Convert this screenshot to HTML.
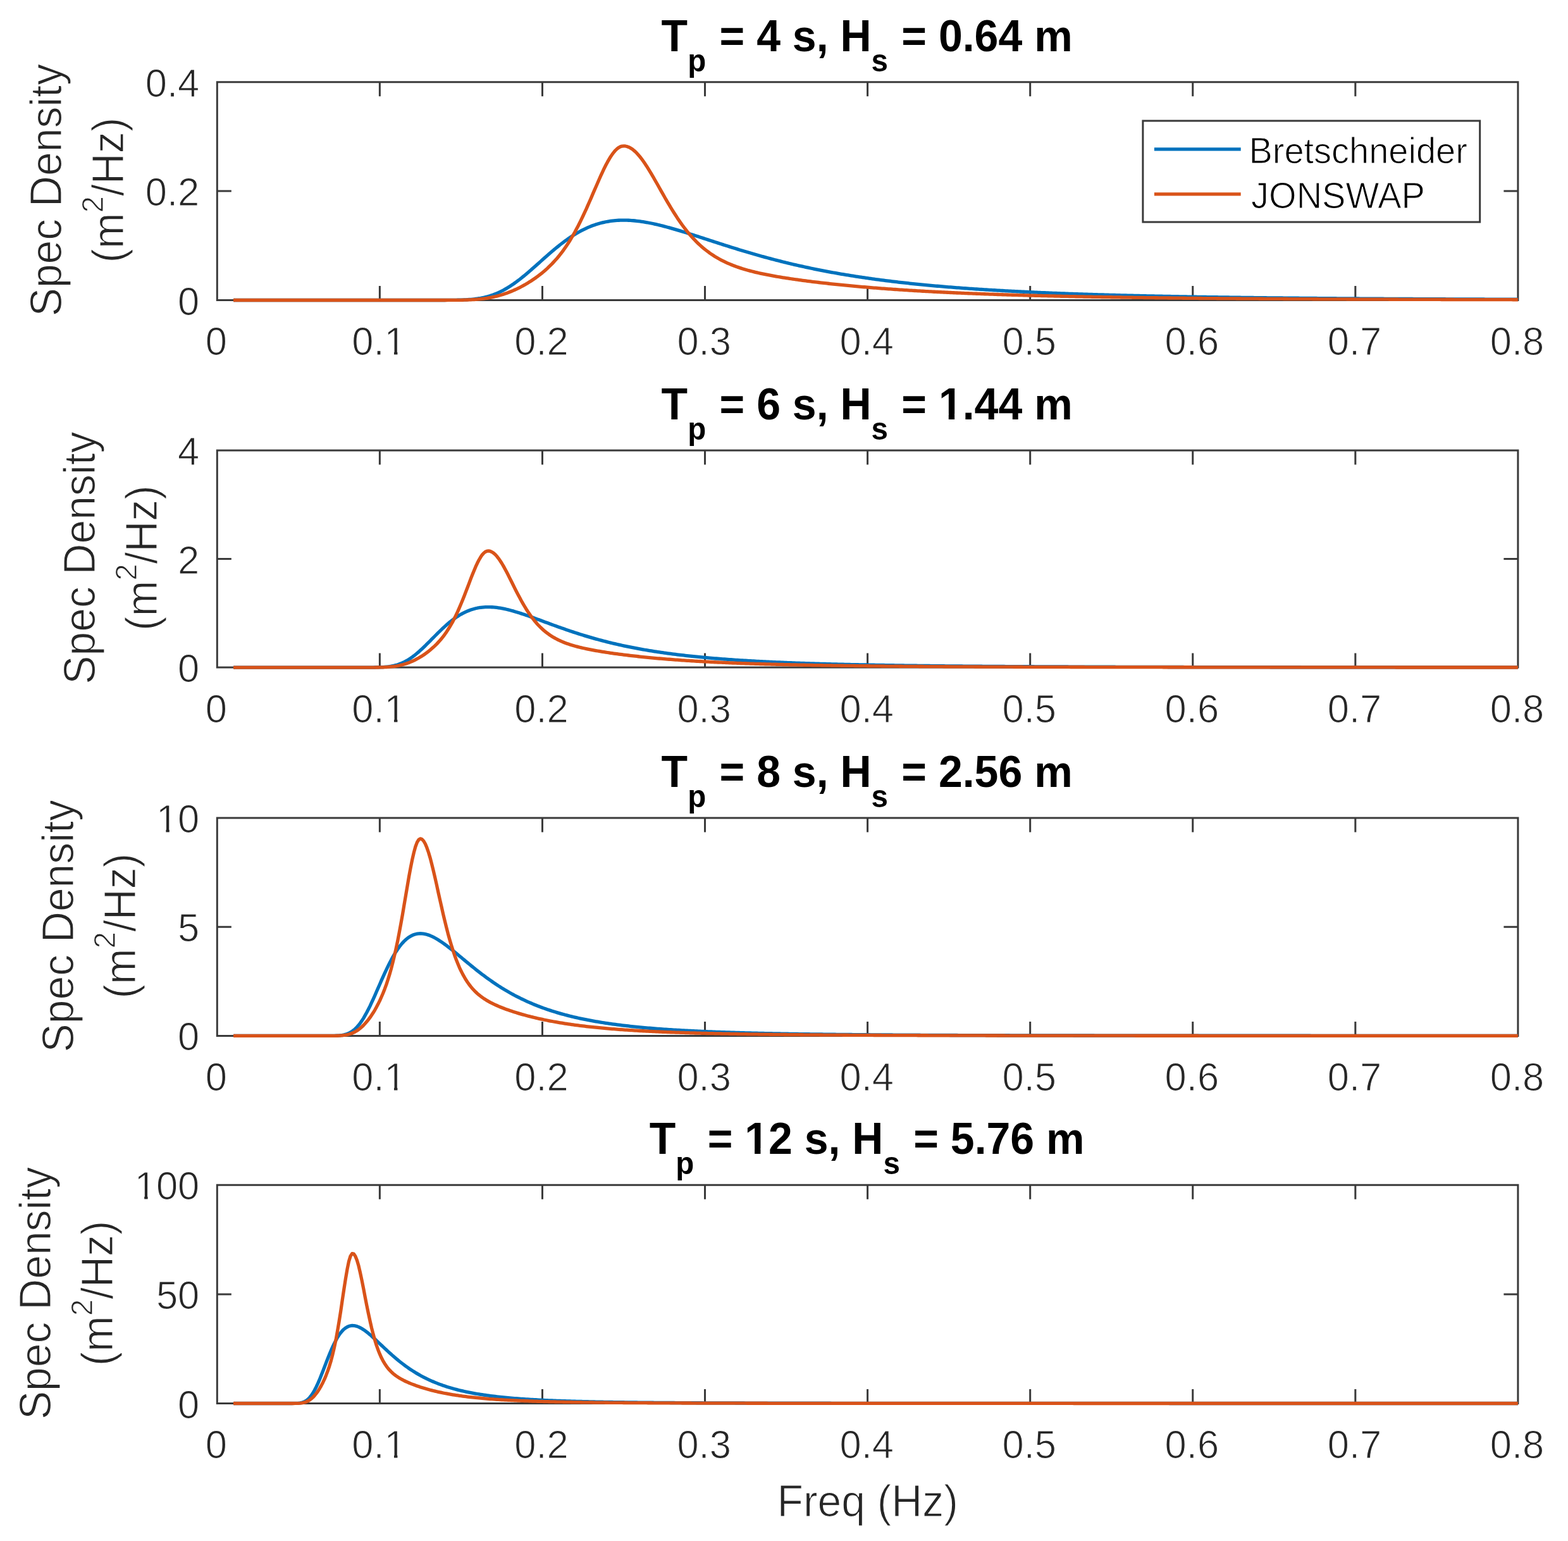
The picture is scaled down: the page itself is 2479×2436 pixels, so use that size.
<!DOCTYPE html><html><head><meta charset="utf-8"><title>Wave spectra: Bretschneider vs JONSWAP</title><style>html,body{margin:0;padding:0;background:#fff;}svg{display:block;}</style></head><body>
<svg width="2479" height="2436" viewBox="0 0 2479 2436" font-family="'Liberation Sans', Arial, Helvetica, sans-serif">
<rect width="2479" height="2436" fill="#fff"/>
<path d="M343.3,129.75H2399.9V474.5H343.3ZM343.30,474.5v-21M343.30,129.75v21M600.38,474.5v-21M600.38,129.75v21M857.45,474.5v-21M857.45,129.75v21M1114.53,474.5v-21M1114.53,129.75v21M1371.60,474.5v-21M1371.60,129.75v21M1628.67,474.5v-21M1628.67,129.75v21M1885.75,474.5v-21M1885.75,129.75v21M2142.83,474.5v-21M2142.83,129.75v21M2399.90,474.5v-21M2399.90,129.75v21M343.3,474.50h21M2399.9,474.50h-21M343.3,302.12h21M2399.9,302.12h-21M343.3,129.75h21M2399.9,129.75h-21" fill="none" stroke="#3a3a3a" stroke-width="3.0" stroke-linecap="square"/>
<polyline points="369.0,474.50 371.6,474.50 374.1,474.50 376.7,474.50 379.3,474.50 381.9,474.50 384.4,474.50 387.0,474.50 389.6,474.50 392.1,474.50 394.7,474.50 397.3,474.50 399.9,474.50 402.4,474.50 405.0,474.50 407.6,474.50 410.1,474.50 412.7,474.50 415.3,474.50 417.9,474.50 420.4,474.50 423.0,474.50 425.6,474.50 428.1,474.50 430.7,474.50 433.3,474.50 435.8,474.50 438.4,474.50 441.0,474.50 443.6,474.50 446.1,474.50 448.7,474.50 451.3,474.50 453.8,474.50 456.4,474.50 459.0,474.50 461.6,474.50 464.1,474.50 466.7,474.50 469.3,474.50 471.8,474.50 474.4,474.50 477.0,474.50 479.5,474.50 482.1,474.50 484.7,474.50 487.3,474.50 489.8,474.50 492.4,474.50 495.0,474.50 497.5,474.50 500.1,474.50 502.7,474.50 505.3,474.50 507.8,474.50 510.4,474.50 513.0,474.50 515.5,474.50 518.1,474.50 520.7,474.50 523.3,474.50 525.8,474.50 528.4,474.50 531.0,474.50 533.5,474.50 536.1,474.50 538.7,474.50 541.2,474.50 543.8,474.50 546.4,474.50 549.0,474.50 551.5,474.50 554.1,474.50 556.7,474.50 559.2,474.50 561.8,474.50 564.4,474.50 567.0,474.50 569.5,474.50 572.1,474.50 574.7,474.50 577.2,474.50 579.8,474.50 582.4,474.50 585.0,474.50 587.5,474.50 590.1,474.50 592.7,474.50 595.2,474.50 597.8,474.50 600.4,474.50 602.9,474.50 605.5,474.50 608.1,474.50 610.7,474.50 613.2,474.50 615.8,474.50 618.4,474.50 620.9,474.50 623.5,474.50 626.1,474.50 628.7,474.50 631.2,474.50 633.8,474.50 636.4,474.50 638.9,474.50 641.5,474.50 644.1,474.50 646.6,474.50 649.2,474.50 651.8,474.50 654.4,474.50 656.9,474.50 659.5,474.50 662.1,474.50 664.6,474.50 667.2,474.50 669.8,474.50 672.4,474.50 674.9,474.50 677.5,474.50 680.1,474.50 682.6,474.50 685.2,474.50 687.8,474.50 690.4,474.50 692.9,474.49 695.5,474.49 698.1,474.49 700.6,474.48 703.2,474.48 705.8,474.47 708.3,474.45 710.9,474.44 713.5,474.42 716.1,474.39 718.6,474.36 721.2,474.32 723.8,474.27 726.3,474.21 728.9,474.13 731.5,474.04 734.1,473.93 736.6,473.81 739.2,473.66 741.8,473.48 744.3,473.27 746.9,473.04 749.5,472.77 752.0,472.46 754.6,472.11 757.2,471.72 759.8,471.28 762.3,470.79 764.9,470.25 767.5,469.65 770.0,468.99 772.6,468.27 775.2,467.49 777.8,466.64 780.3,465.73 782.9,464.74 785.5,463.69 788.0,462.57 790.6,461.37 793.2,460.10 795.8,458.77 798.3,457.36 800.9,455.88 803.5,454.34 806.0,452.72 808.6,451.05 811.2,449.30 813.7,447.50 816.3,445.64 818.9,443.73 821.5,441.76 824.0,439.74 826.6,437.68 829.2,435.58 831.7,433.44 834.3,431.26 836.9,429.06 839.5,426.83 842.0,424.58 844.6,422.31 847.2,420.02 849.7,417.73 852.3,415.43 854.9,413.13 857.5,410.83 860.0,408.54 862.6,406.26 865.2,404.00 867.7,401.75 870.3,399.52 872.9,397.32 875.4,395.14 878.0,393.00 880.6,390.88 883.2,388.81 885.7,386.77 888.3,384.77 890.9,382.82 893.4,380.91 896.0,379.05 898.6,377.23 901.2,375.47 903.7,373.76 906.3,372.10 908.9,370.49 911.4,368.94 914.0,367.45 916.6,366.01 919.1,364.63 921.7,363.31 924.3,362.04 926.9,360.83 929.4,359.68 932.0,358.59 934.6,357.55 937.1,356.57 939.7,355.65 942.3,354.79 944.9,353.98 947.4,353.23 950.0,352.53 952.6,351.89 955.1,351.30 957.7,350.76 960.3,350.28 962.9,349.84 965.4,349.46 968.0,349.13 970.6,348.84 973.1,348.60 975.7,348.41 978.3,348.26 980.8,348.15 983.4,348.09 986.0,348.07 988.6,348.09 991.1,348.15 993.7,348.25 996.3,348.38 998.8,348.55 1001.4,348.76 1004.0,349.00 1006.6,349.27 1009.1,349.57 1011.7,349.90 1014.3,350.27 1016.8,350.66 1019.4,351.07 1022.0,351.52 1024.5,351.99 1027.1,352.48 1029.7,352.99 1032.3,353.53 1034.8,354.09 1037.4,354.67 1040.0,355.27 1042.5,355.88 1045.1,356.51 1047.7,357.16 1050.3,357.83 1052.8,358.51 1055.4,359.20 1058.0,359.91 1060.5,360.63 1063.1,361.36 1065.7,362.10 1068.3,362.85 1070.8,363.61 1073.4,364.38 1076.0,365.16 1078.5,365.95 1081.1,366.74 1083.7,367.54 1086.2,368.35 1088.8,369.16 1091.4,369.97 1094.0,370.79 1096.5,371.62 1099.1,372.44 1101.7,373.27 1104.2,374.10 1106.8,374.94 1109.4,375.77 1112.0,376.61 1114.5,377.45 1117.1,378.28 1119.7,379.12 1122.2,379.96 1124.8,380.80 1127.4,381.63 1129.9,382.47 1132.5,383.30 1135.1,384.13 1137.7,384.96 1140.2,385.79 1142.8,386.61 1145.4,387.43 1147.9,388.25 1150.5,389.07 1153.1,389.88 1155.7,390.69 1158.2,391.49 1160.8,392.29 1163.4,393.09 1165.9,393.88 1168.5,394.67 1171.1,395.45 1173.7,396.23 1176.2,397.01 1178.8,397.78 1181.4,398.54 1183.9,399.30 1186.5,400.06 1189.1,400.80 1191.6,401.55 1194.2,402.29 1196.8,403.02 1199.4,403.75 1201.9,404.47 1204.5,405.19 1207.1,405.90 1209.6,406.60 1212.2,407.30 1214.8,408.00 1217.4,408.68 1219.9,409.37 1222.5,410.04 1225.1,410.71 1227.6,411.38 1230.2,412.04 1232.8,412.69 1235.4,413.33 1237.9,413.98 1240.5,414.61 1243.1,415.24 1245.6,415.86 1248.2,416.48 1250.8,417.09 1253.3,417.70 1255.9,418.30 1258.5,418.89 1261.1,419.48 1263.6,420.06 1266.2,420.64 1268.8,421.21 1271.3,421.77 1273.9,422.33 1276.5,422.89 1279.1,423.44 1281.6,423.98 1284.2,424.52 1286.8,425.05 1289.3,425.57 1291.9,426.09 1294.5,426.61 1297.0,427.12 1299.6,427.62 1302.2,428.12 1304.8,428.61 1307.3,429.10 1309.9,429.59 1312.5,430.06 1315.0,430.54 1317.6,431.00 1320.2,431.47 1322.8,431.93 1325.3,432.38 1327.9,432.83 1330.5,433.27 1333.0,433.71 1335.6,434.14 1338.2,434.57 1340.8,434.99 1343.3,435.41 1345.9,435.83 1348.5,436.24 1351.0,436.64 1353.6,437.04 1356.2,437.44 1358.7,437.83 1361.3,438.22 1363.9,438.60 1366.5,438.98 1369.0,439.35 1371.6,439.72 1374.2,440.09 1376.7,440.45 1379.3,440.81 1381.9,441.16 1384.5,441.51 1387.0,441.86 1389.6,442.20 1392.2,442.54 1394.7,442.88 1397.3,443.21 1399.9,443.53 1402.4,443.86 1405.0,444.18 1407.6,444.49 1410.2,444.81 1412.7,445.11 1415.3,445.42 1417.9,445.72 1420.4,446.02 1423.0,446.31 1425.6,446.61 1428.2,446.90 1430.7,447.18 1433.3,447.46 1435.9,447.74 1438.4,448.02 1441.0,448.29 1443.6,448.56 1446.2,448.82 1448.7,449.09 1451.3,449.35 1453.9,449.61 1456.4,449.86 1459.0,450.11 1461.6,450.36 1464.1,450.61 1466.7,450.85 1469.3,451.09 1471.9,451.33 1474.4,451.56 1477.0,451.79 1479.6,452.02 1482.1,452.25 1484.7,452.47 1487.3,452.70 1489.9,452.92 1492.4,453.13 1495.0,453.35 1497.6,453.56 1500.1,453.77 1502.7,453.98 1505.3,454.18 1507.8,454.38 1510.4,454.58 1513.0,454.78 1515.6,454.98 1518.1,455.17 1520.7,455.36 1523.3,455.55 1525.8,455.74 1528.4,455.92 1531.0,456.11 1533.6,456.29 1536.1,456.47 1538.7,456.64 1541.3,456.82 1543.8,456.99 1546.4,457.16 1549.0,457.33 1551.6,457.50 1554.1,457.66 1556.7,457.83 1559.3,457.99 1561.8,458.15 1564.4,458.31 1567.0,458.46 1569.5,458.62 1572.1,458.77 1574.7,458.92 1577.3,459.07 1579.8,459.22 1582.4,459.37 1585.0,459.51 1587.5,459.66 1590.1,459.80 1592.7,459.94 1595.3,460.08 1597.8,460.21 1600.4,460.35 1603.0,460.48 1605.5,460.62 1608.1,460.75 1610.7,460.88 1613.3,461.01 1615.8,461.13 1618.4,461.26 1621.0,461.38 1623.5,461.50 1626.1,461.63 1628.7,461.75 1631.2,461.87 1633.8,461.98 1636.4,462.10 1639.0,462.21 1641.5,462.33 1644.1,462.44 1646.7,462.55 1649.2,462.66 1651.8,462.77 1654.4,462.88 1657.0,462.99 1659.5,463.09 1662.1,463.20 1664.7,463.30 1667.2,463.40 1669.8,463.50 1672.4,463.60 1674.9,463.70 1677.5,463.80 1680.1,463.90 1682.7,463.99 1685.2,464.09 1687.8,464.18 1690.4,464.28 1692.9,464.37 1695.5,464.46 1698.1,464.55 1700.7,464.64 1703.2,464.73 1705.8,464.81 1708.4,464.90 1710.9,464.99 1713.5,465.07 1716.1,465.15 1718.7,465.24 1721.2,465.32 1723.8,465.40 1726.4,465.48 1728.9,465.56 1731.5,465.64 1734.1,465.72 1736.6,465.79 1739.2,465.87 1741.8,465.95 1744.4,466.02 1746.9,466.09 1749.5,466.17 1752.1,466.24 1754.6,466.31 1757.2,466.38 1759.8,466.45 1762.4,466.52 1764.9,466.59 1767.5,466.66 1770.1,466.73 1772.6,466.79 1775.2,466.86 1777.8,466.93 1780.3,466.99 1782.9,467.05 1785.5,467.12 1788.1,467.18 1790.6,467.24 1793.2,467.30 1795.8,467.37 1798.3,467.43 1800.9,467.49 1803.5,467.54 1806.1,467.60 1808.6,467.66 1811.2,467.72 1813.8,467.78 1816.3,467.83 1818.9,467.89 1821.5,467.94 1824.1,468.00 1826.6,468.05 1829.2,468.11 1831.8,468.16 1834.3,468.21 1836.9,468.26 1839.5,468.32 1842.0,468.37 1844.6,468.42 1847.2,468.47 1849.8,468.52 1852.3,468.57 1854.9,468.61 1857.5,468.66 1860.0,468.71 1862.6,468.76 1865.2,468.80 1867.8,468.85 1870.3,468.90 1872.9,468.94 1875.5,468.99 1878.0,469.03 1880.6,469.08 1883.2,469.12 1885.7,469.16 1888.3,469.21 1890.9,469.25 1893.5,469.29 1896.0,469.33 1898.6,469.37 1901.2,469.41 1903.7,469.46 1906.3,469.50 1908.9,469.54 1911.5,469.57 1914.0,469.61 1916.6,469.65 1919.2,469.69 1921.7,469.73 1924.3,469.77 1926.9,469.80 1929.5,469.84 1932.0,469.88 1934.6,469.91 1937.2,469.95 1939.7,469.98 1942.3,470.02 1944.9,470.05 1947.4,470.09 1950.0,470.12 1952.6,470.16 1955.2,470.19 1957.7,470.22 1960.3,470.26 1962.9,470.29 1965.4,470.32 1968.0,470.35 1970.6,470.39 1973.2,470.42 1975.7,470.45 1978.3,470.48 1980.9,470.51 1983.4,470.54 1986.0,470.57 1988.6,470.60 1991.2,470.63 1993.7,470.66 1996.3,470.69 1998.9,470.72 2001.4,470.75 2004.0,470.78 2006.6,470.80 2009.1,470.83 2011.7,470.86 2014.3,470.89 2016.9,470.91 2019.4,470.94 2022.0,470.97 2024.6,470.99 2027.1,471.02 2029.7,471.05 2032.3,471.07 2034.9,471.10 2037.4,471.12 2040.0,471.15 2042.6,471.17 2045.1,471.20 2047.7,471.22 2050.3,471.24 2052.8,471.27 2055.4,471.29 2058.0,471.32 2060.6,471.34 2063.1,471.36 2065.7,471.38 2068.3,471.41 2070.8,471.43 2073.4,471.45 2076.0,471.47 2078.6,471.50 2081.1,471.52 2083.7,471.54 2086.3,471.56 2088.8,471.58 2091.4,471.60 2094.0,471.62 2096.6,471.64 2099.1,471.66 2101.7,471.69 2104.3,471.71 2106.8,471.73 2109.4,471.75 2112.0,471.76 2114.5,471.78 2117.1,471.80 2119.7,471.82 2122.3,471.84 2124.8,471.86 2127.4,471.88 2130.0,471.90 2132.5,471.92 2135.1,471.93 2137.7,471.95 2140.3,471.97 2142.8,471.99 2145.4,472.01 2148.0,472.02 2150.5,472.04 2153.1,472.06 2155.7,472.07 2158.2,472.09 2160.8,472.11 2163.4,472.12 2166.0,472.14 2168.5,472.16 2171.1,472.17 2173.7,472.19 2176.2,472.21 2178.8,472.22 2181.4,472.24 2184.0,472.25 2186.5,472.27 2189.1,472.28 2191.7,472.30 2194.2,472.31 2196.8,472.33 2199.4,472.34 2202.0,472.36 2204.5,472.37 2207.1,472.39 2209.7,472.40 2212.2,472.41 2214.8,472.43 2217.4,472.44 2219.9,472.46 2222.5,472.47 2225.1,472.48 2227.7,472.50 2230.2,472.51 2232.8,472.52 2235.4,472.54 2237.9,472.55 2240.5,472.56 2243.1,472.58 2245.7,472.59 2248.2,472.60 2250.8,472.61 2253.4,472.63 2255.9,472.64 2258.5,472.65 2261.1,472.66 2263.7,472.68 2266.2,472.69 2268.8,472.70 2271.4,472.71 2273.9,472.72 2276.5,472.74 2279.1,472.75 2281.6,472.76 2284.2,472.77 2286.8,472.78 2289.4,472.79 2291.9,472.80 2294.5,472.81 2297.1,472.83 2299.6,472.84 2302.2,472.85 2304.8,472.86 2307.4,472.87 2309.9,472.88 2312.5,472.89 2315.1,472.90 2317.6,472.91 2320.2,472.92 2322.8,472.93 2325.3,472.94 2327.9,472.95 2330.5,472.96 2333.1,472.97 2335.6,472.98 2338.2,472.99 2340.8,473.00 2343.3,473.01 2345.9,473.02 2348.5,473.03 2351.1,473.04 2353.6,473.05 2356.2,473.05 2358.8,473.06 2361.3,473.07 2363.9,473.08 2366.5,473.09 2369.1,473.10 2371.6,473.11 2374.2,473.12 2376.8,473.13 2379.3,473.13 2381.9,473.14 2384.5,473.15 2387.0,473.16 2389.6,473.17 2392.2,473.18 2394.8,473.18 2397.3,473.19 2399.9,473.20" fill="none" stroke="#0072BD" stroke-width="5.3" stroke-linejoin="round"/>
<polyline points="369.0,474.50 371.6,474.50 374.1,474.50 376.7,474.50 379.3,474.50 381.9,474.50 384.4,474.50 387.0,474.50 389.6,474.50 392.1,474.50 394.7,474.50 397.3,474.50 399.9,474.50 402.4,474.50 405.0,474.50 407.6,474.50 410.1,474.50 412.7,474.50 415.3,474.50 417.9,474.50 420.4,474.50 423.0,474.50 425.6,474.50 428.1,474.50 430.7,474.50 433.3,474.50 435.8,474.50 438.4,474.50 441.0,474.50 443.6,474.50 446.1,474.50 448.7,474.50 451.3,474.50 453.8,474.50 456.4,474.50 459.0,474.50 461.6,474.50 464.1,474.50 466.7,474.50 469.3,474.50 471.8,474.50 474.4,474.50 477.0,474.50 479.5,474.50 482.1,474.50 484.7,474.50 487.3,474.50 489.8,474.50 492.4,474.50 495.0,474.50 497.5,474.50 500.1,474.50 502.7,474.50 505.3,474.50 507.8,474.50 510.4,474.50 513.0,474.50 515.5,474.50 518.1,474.50 520.7,474.50 523.3,474.50 525.8,474.50 528.4,474.50 531.0,474.50 533.5,474.50 536.1,474.50 538.7,474.50 541.2,474.50 543.8,474.50 546.4,474.50 549.0,474.50 551.5,474.50 554.1,474.50 556.7,474.50 559.2,474.50 561.8,474.50 564.4,474.50 567.0,474.50 569.5,474.50 572.1,474.50 574.7,474.50 577.2,474.50 579.8,474.50 582.4,474.50 585.0,474.50 587.5,474.50 590.1,474.50 592.7,474.50 595.2,474.50 597.8,474.50 600.4,474.50 602.9,474.50 605.5,474.50 608.1,474.50 610.7,474.50 613.2,474.50 615.8,474.50 618.4,474.50 620.9,474.50 623.5,474.50 626.1,474.50 628.7,474.50 631.2,474.50 633.8,474.50 636.4,474.50 638.9,474.50 641.5,474.50 644.1,474.50 646.6,474.50 649.2,474.50 651.8,474.50 654.4,474.50 656.9,474.50 659.5,474.50 662.1,474.50 664.6,474.50 667.2,474.50 669.8,474.50 672.4,474.50 674.9,474.50 677.5,474.50 680.1,474.50 682.6,474.50 685.2,474.50 687.8,474.50 690.4,474.50 692.9,474.50 695.5,474.50 698.1,474.49 700.6,474.49 703.2,474.49 705.8,474.48 708.3,474.47 710.9,474.46 713.5,474.45 716.1,474.44 718.6,474.42 721.2,474.39 723.8,474.37 726.3,474.33 728.9,474.29 731.5,474.23 734.1,474.17 736.6,474.09 739.2,474.01 741.8,473.90 744.3,473.78 746.9,473.65 749.5,473.49 752.0,473.31 754.6,473.10 757.2,472.87 759.8,472.61 762.3,472.33 764.9,472.01 767.5,471.66 770.0,471.27 772.6,470.85 775.2,470.38 777.8,469.88 780.3,469.34 782.9,468.76 785.5,468.13 788.0,467.46 790.6,466.75 793.2,465.99 795.8,465.18 798.3,464.33 800.9,463.43 803.5,462.49 806.0,461.50 808.6,460.46 811.2,459.37 813.7,458.24 816.3,457.06 818.9,455.83 821.5,454.55 824.0,453.22 826.6,451.85 829.2,450.42 831.7,448.95 834.3,447.42 836.9,445.84 839.5,444.21 842.0,442.52 844.6,440.77 847.2,438.96 849.7,437.09 852.3,435.15 854.9,433.15 857.5,431.07 860.0,428.92 862.6,426.68 865.2,424.36 867.7,421.96 870.3,419.45 872.9,416.85 875.4,414.14 878.0,411.32 880.6,408.39 883.2,405.33 885.7,402.14 888.3,398.82 890.9,395.36 893.4,391.75 896.0,387.99 898.6,384.07 901.2,380.00 903.7,375.76 906.3,371.35 908.9,366.78 911.4,362.04 914.0,357.14 916.6,352.07 919.1,346.85 921.7,341.48 924.3,335.97 926.9,330.34 929.4,324.59 932.0,318.76 934.6,312.85 937.1,306.89 939.7,300.91 942.3,294.94 944.9,289.02 947.4,283.17 950.0,277.43 952.6,271.85 955.1,266.46 957.7,261.31 960.3,256.43 962.9,251.88 965.4,247.68 968.0,243.87 970.6,240.50 973.1,237.59 975.7,235.17 978.3,233.26 980.8,231.89 983.4,231.06 986.0,230.78 988.6,230.97 991.1,231.51 993.7,232.41 996.3,233.66 998.8,235.24 1001.4,237.16 1004.0,239.38 1006.6,241.90 1009.1,244.69 1011.7,247.75 1014.3,251.04 1016.8,254.55 1019.4,258.27 1022.0,262.16 1024.5,266.20 1027.1,270.38 1029.7,274.67 1032.3,279.05 1034.8,283.50 1037.4,288.01 1040.0,292.54 1042.5,297.10 1045.1,301.65 1047.7,306.19 1050.3,310.70 1052.8,315.17 1055.4,319.58 1058.0,323.93 1060.5,328.20 1063.1,332.40 1065.7,336.50 1068.3,340.51 1070.8,344.41 1073.4,348.21 1076.0,351.91 1078.5,355.49 1081.1,358.97 1083.7,362.33 1086.2,365.58 1088.8,368.72 1091.4,371.74 1094.0,374.66 1096.5,377.46 1099.1,380.16 1101.7,382.76 1104.2,385.25 1106.8,387.64 1109.4,389.94 1112.0,392.15 1114.5,394.26 1117.1,396.28 1119.7,398.23 1122.2,400.09 1124.8,401.87 1127.4,403.57 1129.9,405.21 1132.5,406.78 1135.1,408.28 1137.7,409.71 1140.2,411.09 1142.8,412.41 1145.4,413.68 1147.9,414.89 1150.5,416.06 1153.1,417.17 1155.7,418.24 1158.2,419.27 1160.8,420.26 1163.4,421.22 1165.9,422.13 1168.5,423.01 1171.1,423.86 1173.7,424.68 1176.2,425.47 1178.8,426.23 1181.4,426.96 1183.9,427.68 1186.5,428.36 1189.1,429.03 1191.6,429.67 1194.2,430.30 1196.8,430.90 1199.4,431.49 1201.9,432.07 1204.5,432.62 1207.1,433.17 1209.6,433.69 1212.2,434.21 1214.8,434.71 1217.4,435.20 1219.9,435.68 1222.5,436.15 1225.1,436.61 1227.6,437.06 1230.2,437.50 1232.8,437.93 1235.4,438.36 1237.9,438.78 1240.5,439.18 1243.1,439.59 1245.6,439.98 1248.2,440.37 1250.8,440.75 1253.3,441.13 1255.9,441.50 1258.5,441.87 1261.1,442.23 1263.6,442.58 1266.2,442.93 1268.8,443.28 1271.3,443.62 1273.9,443.95 1276.5,444.29 1279.1,444.61 1281.6,444.94 1284.2,445.26 1286.8,445.57 1289.3,445.88 1291.9,446.19 1294.5,446.50 1297.0,446.80 1299.6,447.10 1302.2,447.39 1304.8,447.68 1307.3,447.97 1309.9,448.25 1312.5,448.53 1315.0,448.81 1317.6,449.08 1320.2,449.36 1322.8,449.62 1325.3,449.89 1327.9,450.15 1330.5,450.41 1333.0,450.67 1335.6,450.92 1338.2,451.17 1340.8,451.42 1343.3,451.66 1345.9,451.91 1348.5,452.15 1351.0,452.38 1353.6,452.62 1356.2,452.85 1358.7,453.08 1361.3,453.30 1363.9,453.53 1366.5,453.75 1369.0,453.97 1371.6,454.19 1374.2,454.40 1376.7,454.61 1379.3,454.82 1381.9,455.03 1384.5,455.23 1387.0,455.43 1389.6,455.63 1392.2,455.83 1394.7,456.03 1397.3,456.22 1399.9,456.41 1402.4,456.60 1405.0,456.79 1407.6,456.97 1410.2,457.15 1412.7,457.33 1415.3,457.51 1417.9,457.69 1420.4,457.86 1423.0,458.04 1425.6,458.21 1428.2,458.37 1430.7,458.54 1433.3,458.71 1435.9,458.87 1438.4,459.03 1441.0,459.19 1443.6,459.35 1446.2,459.50 1448.7,459.66 1451.3,459.81 1453.9,459.96 1456.4,460.11 1459.0,460.25 1461.6,460.40 1464.1,460.54 1466.7,460.68 1469.3,460.82 1471.9,460.96 1474.4,461.10 1477.0,461.24 1479.6,461.37 1482.1,461.50 1484.7,461.63 1487.3,461.76 1489.9,461.89 1492.4,462.02 1495.0,462.14 1497.6,462.27 1500.1,462.39 1502.7,462.51 1505.3,462.63 1507.8,462.75 1510.4,462.87 1513.0,462.98 1515.6,463.10 1518.1,463.21 1520.7,463.32 1523.3,463.43 1525.8,463.54 1528.4,463.65 1531.0,463.76 1533.6,463.86 1536.1,463.97 1538.7,464.07 1541.3,464.17 1543.8,464.27 1546.4,464.37 1549.0,464.47 1551.6,464.57 1554.1,464.67 1556.7,464.76 1559.3,464.86 1561.8,464.95 1564.4,465.04 1567.0,465.13 1569.5,465.22 1572.1,465.31 1574.7,465.40 1577.3,465.49 1579.8,465.58 1582.4,465.66 1585.0,465.75 1587.5,465.83 1590.1,465.91 1592.7,465.99 1595.3,466.07 1597.8,466.15 1600.4,466.23 1603.0,466.31 1605.5,466.39 1608.1,466.47 1610.7,466.54 1613.3,466.62 1615.8,466.69 1618.4,466.76 1621.0,466.84 1623.5,466.91 1626.1,466.98 1628.7,467.05 1631.2,467.12 1633.8,467.19 1636.4,467.26 1639.0,467.32 1641.5,467.39 1644.1,467.46 1646.7,467.52 1649.2,467.59 1651.8,467.65 1654.4,467.71 1657.0,467.77 1659.5,467.84 1662.1,467.90 1664.7,467.96 1667.2,468.02 1669.8,468.08 1672.4,468.13 1674.9,468.19 1677.5,468.25 1680.1,468.31 1682.7,468.36 1685.2,468.42 1687.8,468.47 1690.4,468.53 1692.9,468.58 1695.5,468.63 1698.1,468.69 1700.7,468.74 1703.2,468.79 1705.8,468.84 1708.4,468.89 1710.9,468.94 1713.5,468.99 1716.1,469.04 1718.7,469.09 1721.2,469.14 1723.8,469.18 1726.4,469.23 1728.9,469.28 1731.5,469.32 1734.1,469.37 1736.6,469.41 1739.2,469.46 1741.8,469.50 1744.4,469.55 1746.9,469.59 1749.5,469.63 1752.1,469.67 1754.6,469.72 1757.2,469.76 1759.8,469.80 1762.4,469.84 1764.9,469.88 1767.5,469.92 1770.1,469.96 1772.6,470.00 1775.2,470.04 1777.8,470.08 1780.3,470.11 1782.9,470.15 1785.5,470.19 1788.1,470.22 1790.6,470.26 1793.2,470.30 1795.8,470.33 1798.3,470.37 1800.9,470.40 1803.5,470.44 1806.1,470.47 1808.6,470.51 1811.2,470.54 1813.8,470.57 1816.3,470.61 1818.9,470.64 1821.5,470.67 1824.1,470.70 1826.6,470.73 1829.2,470.76 1831.8,470.80 1834.3,470.83 1836.9,470.86 1839.5,470.89 1842.0,470.92 1844.6,470.95 1847.2,470.98 1849.8,471.00 1852.3,471.03 1854.9,471.06 1857.5,471.09 1860.0,471.12 1862.6,471.15 1865.2,471.17 1867.8,471.20 1870.3,471.23 1872.9,471.25 1875.5,471.28 1878.0,471.31 1880.6,471.33 1883.2,471.36 1885.7,471.38 1888.3,471.41 1890.9,471.43 1893.5,471.46 1896.0,471.48 1898.6,471.51 1901.2,471.53 1903.7,471.55 1906.3,471.58 1908.9,471.60 1911.5,471.62 1914.0,471.65 1916.6,471.67 1919.2,471.69 1921.7,471.71 1924.3,471.73 1926.9,471.76 1929.5,471.78 1932.0,471.80 1934.6,471.82 1937.2,471.84 1939.7,471.86 1942.3,471.88 1944.9,471.90 1947.4,471.92 1950.0,471.94 1952.6,471.96 1955.2,471.98 1957.7,472.00 1960.3,472.02 1962.9,472.04 1965.4,472.06 1968.0,472.08 1970.6,472.10 1973.2,472.12 1975.7,472.13 1978.3,472.15 1980.9,472.17 1983.4,472.19 1986.0,472.21 1988.6,472.22 1991.2,472.24 1993.7,472.26 1996.3,472.27 1998.9,472.29 2001.4,472.31 2004.0,472.32 2006.6,472.34 2009.1,472.36 2011.7,472.37 2014.3,472.39 2016.9,472.40 2019.4,472.42 2022.0,472.44 2024.6,472.45 2027.1,472.47 2029.7,472.48 2032.3,472.50 2034.9,472.51 2037.4,472.53 2040.0,472.54 2042.6,472.56 2045.1,472.57 2047.7,472.58 2050.3,472.60 2052.8,472.61 2055.4,472.63 2058.0,472.64 2060.6,472.65 2063.1,472.67 2065.7,472.68 2068.3,472.69 2070.8,472.71 2073.4,472.72 2076.0,472.73 2078.6,472.75 2081.1,472.76 2083.7,472.77 2086.3,472.78 2088.8,472.80 2091.4,472.81 2094.0,472.82 2096.6,472.83 2099.1,472.84 2101.7,472.86 2104.3,472.87 2106.8,472.88 2109.4,472.89 2112.0,472.90 2114.5,472.91 2117.1,472.92 2119.7,472.94 2122.3,472.95 2124.8,472.96 2127.4,472.97 2130.0,472.98 2132.5,472.99 2135.1,473.00 2137.7,473.01 2140.3,473.02 2142.8,473.03 2145.4,473.04 2148.0,473.05 2150.5,473.06 2153.1,473.07 2155.7,473.08 2158.2,473.09 2160.8,473.10 2163.4,473.11 2166.0,473.12 2168.5,473.13 2171.1,473.14 2173.7,473.15 2176.2,473.16 2178.8,473.17 2181.4,473.18 2184.0,473.19 2186.5,473.20 2189.1,473.20 2191.7,473.21 2194.2,473.22 2196.8,473.23 2199.4,473.24 2202.0,473.25 2204.5,473.26 2207.1,473.27 2209.7,473.27 2212.2,473.28 2214.8,473.29 2217.4,473.30 2219.9,473.31 2222.5,473.31 2225.1,473.32 2227.7,473.33 2230.2,473.34 2232.8,473.35 2235.4,473.35 2237.9,473.36 2240.5,473.37 2243.1,473.38 2245.7,473.38 2248.2,473.39 2250.8,473.40 2253.4,473.41 2255.9,473.41 2258.5,473.42 2261.1,473.43 2263.7,473.43 2266.2,473.44 2268.8,473.45 2271.4,473.46 2273.9,473.46 2276.5,473.47 2279.1,473.48 2281.6,473.48 2284.2,473.49 2286.8,473.50 2289.4,473.50 2291.9,473.51 2294.5,473.52 2297.1,473.52 2299.6,473.53 2302.2,473.53 2304.8,473.54 2307.4,473.55 2309.9,473.55 2312.5,473.56 2315.1,473.56 2317.6,473.57 2320.2,473.58 2322.8,473.58 2325.3,473.59 2327.9,473.59 2330.5,473.60 2333.1,473.61 2335.6,473.61 2338.2,473.62 2340.8,473.62 2343.3,473.63 2345.9,473.63 2348.5,473.64 2351.1,473.64 2353.6,473.65 2356.2,473.66 2358.8,473.66 2361.3,473.67 2363.9,473.67 2366.5,473.68 2369.1,473.68 2371.6,473.69 2374.2,473.69 2376.8,473.70 2379.3,473.70 2381.9,473.71 2384.5,473.71 2387.0,473.72 2389.6,473.72 2392.2,473.73 2394.8,473.73 2397.3,473.74 2399.9,473.74" fill="none" stroke="#D95319" stroke-width="5.3" stroke-linejoin="round"/>
<text transform="translate(341.90,560.90) scale(1,1.015)" font-size="61.5" fill="#262626" text-anchor="middle" stroke="#fff" stroke-width="1.1">0</text>
<text transform="translate(598.98,560.90) scale(1,1.015)" font-size="61.5" fill="#262626" text-anchor="middle" stroke="#fff" stroke-width="1.1">0.1</text>
<text transform="translate(856.05,560.90) scale(1,1.015)" font-size="61.5" fill="#262626" text-anchor="middle" stroke="#fff" stroke-width="1.1">0.2</text>
<text transform="translate(1113.12,560.90) scale(1,1.015)" font-size="61.5" fill="#262626" text-anchor="middle" stroke="#fff" stroke-width="1.1">0.3</text>
<text transform="translate(1370.20,560.90) scale(1,1.015)" font-size="61.5" fill="#262626" text-anchor="middle" stroke="#fff" stroke-width="1.1">0.4</text>
<text transform="translate(1627.27,560.90) scale(1,1.015)" font-size="61.5" fill="#262626" text-anchor="middle" stroke="#fff" stroke-width="1.1">0.5</text>
<text transform="translate(1884.35,560.90) scale(1,1.015)" font-size="61.5" fill="#262626" text-anchor="middle" stroke="#fff" stroke-width="1.1">0.6</text>
<text transform="translate(2141.43,560.90) scale(1,1.015)" font-size="61.5" fill="#262626" text-anchor="middle" stroke="#fff" stroke-width="1.1">0.7</text>
<text transform="translate(2398.50,560.90) scale(1,1.015)" font-size="61.5" fill="#262626" text-anchor="middle" stroke="#fff" stroke-width="1.1">0.8</text>
<text transform="translate(315.30,497.50) scale(1,1.015)" font-size="61.5" fill="#262626" text-anchor="end" stroke="#fff" stroke-width="1.1">0</text>
<text transform="translate(315.30,325.12) scale(1,1.015)" font-size="61.5" fill="#262626" text-anchor="end" stroke="#fff" stroke-width="1.1">0.2</text>
<text transform="translate(315.30,152.75) scale(1,1.015)" font-size="61.5" fill="#262626" text-anchor="end" stroke="#fff" stroke-width="1.1">0.4</text>
<text transform="translate(1370.60,80.50) scale(1,1.04)" font-size="68" font-weight="bold" fill="#000" text-anchor="middle">T<tspan font-size="47.5" dy="31">p</tspan><tspan dy="-31" dx="2.5"> = 4 s, H</tspan><tspan font-size="47.5" dy="31">s</tspan><tspan dy="-31" dx="2.5"> = 0.64 m</tspan></text>
<text transform="translate(97.30,300.62) rotate(-90) scale(1,1.03)" font-size="67.8" fill="#262626" text-anchor="middle" stroke="#fff" stroke-width="1.1">Spec Density</text>
<text transform="translate(195.30,300.62) rotate(-90) scale(1,1.03)" font-size="67.8" fill="#262626" text-anchor="middle" stroke="#fff" stroke-width="1.1">(m<tspan font-size="47.5" dy="-31">2</tspan><tspan dy="31">/Hz)</tspan></text>
<path d="M343.3,712.0H2399.9V1055.1H343.3ZM343.30,1055.1v-21M343.30,712.0v21M600.38,1055.1v-21M600.38,712.0v21M857.45,1055.1v-21M857.45,712.0v21M1114.53,1055.1v-21M1114.53,712.0v21M1371.60,1055.1v-21M1371.60,712.0v21M1628.67,1055.1v-21M1628.67,712.0v21M1885.75,1055.1v-21M1885.75,712.0v21M2142.83,1055.1v-21M2142.83,712.0v21M2399.90,1055.1v-21M2399.90,712.0v21M343.3,1055.10h21M2399.9,1055.10h-21M343.3,883.55h21M2399.9,883.55h-21M343.3,712.00h21M2399.9,712.00h-21" fill="none" stroke="#3a3a3a" stroke-width="3.0" stroke-linecap="square"/>
<polyline points="369.0,1055.10 371.6,1055.10 374.1,1055.10 376.7,1055.10 379.3,1055.10 381.9,1055.10 384.4,1055.10 387.0,1055.10 389.6,1055.10 392.1,1055.10 394.7,1055.10 397.3,1055.10 399.9,1055.10 402.4,1055.10 405.0,1055.10 407.6,1055.10 410.1,1055.10 412.7,1055.10 415.3,1055.10 417.9,1055.10 420.4,1055.10 423.0,1055.10 425.6,1055.10 428.1,1055.10 430.7,1055.10 433.3,1055.10 435.8,1055.10 438.4,1055.10 441.0,1055.10 443.6,1055.10 446.1,1055.10 448.7,1055.10 451.3,1055.10 453.8,1055.10 456.4,1055.10 459.0,1055.10 461.6,1055.10 464.1,1055.10 466.7,1055.10 469.3,1055.10 471.8,1055.10 474.4,1055.10 477.0,1055.10 479.5,1055.10 482.1,1055.10 484.7,1055.10 487.3,1055.10 489.8,1055.10 492.4,1055.10 495.0,1055.10 497.5,1055.10 500.1,1055.10 502.7,1055.10 505.3,1055.10 507.8,1055.10 510.4,1055.10 513.0,1055.10 515.5,1055.10 518.1,1055.10 520.7,1055.10 523.3,1055.10 525.8,1055.10 528.4,1055.10 531.0,1055.10 533.5,1055.10 536.1,1055.10 538.7,1055.10 541.2,1055.10 543.8,1055.10 546.4,1055.10 549.0,1055.10 551.5,1055.10 554.1,1055.10 556.7,1055.10 559.2,1055.10 561.8,1055.10 564.4,1055.10 567.0,1055.10 569.5,1055.10 572.1,1055.10 574.7,1055.10 577.2,1055.09 579.8,1055.09 582.4,1055.08 585.0,1055.07 587.5,1055.06 590.1,1055.04 592.7,1055.01 595.2,1054.96 597.8,1054.90 600.4,1054.82 602.9,1054.72 605.5,1054.58 608.1,1054.40 610.7,1054.17 613.2,1053.90 615.8,1053.56 618.4,1053.15 620.9,1052.67 623.5,1052.10 626.1,1051.43 628.7,1050.67 631.2,1049.80 633.8,1048.82 636.4,1047.73 638.9,1046.51 641.5,1045.18 644.1,1043.72 646.6,1042.15 649.2,1040.45 651.8,1038.64 654.4,1036.72 656.9,1034.70 659.5,1032.57 662.1,1030.36 664.6,1028.06 667.2,1025.68 669.8,1023.25 672.4,1020.76 674.9,1018.22 677.5,1015.65 680.1,1013.06 682.6,1010.46 685.2,1007.85 687.8,1005.25 690.4,1002.67 692.9,1000.12 695.5,997.60 698.1,995.13 700.6,992.70 703.2,990.34 705.8,988.04 708.3,985.81 710.9,983.66 713.5,981.59 716.1,979.61 718.6,977.71 721.2,975.91 723.8,974.20 726.3,972.58 728.9,971.07 731.5,969.65 734.1,968.33 736.6,967.10 739.2,965.98 741.8,964.95 744.3,964.02 746.9,963.18 749.5,962.44 752.0,961.78 754.6,961.22 757.2,960.74 759.8,960.35 762.3,960.04 764.9,959.81 767.5,959.65 770.0,959.57 772.6,959.56 775.2,959.61 777.8,959.73 780.3,959.92 782.9,960.16 785.5,960.46 788.0,960.81 790.6,961.21 793.2,961.66 795.8,962.16 798.3,962.70 800.9,963.27 803.5,963.89 806.0,964.54 808.6,965.22 811.2,965.93 813.7,966.67 816.3,967.44 818.9,968.23 821.5,969.04 824.0,969.87 826.6,970.72 829.2,971.59 831.7,972.47 834.3,973.36 836.9,974.27 839.5,975.18 842.0,976.10 844.6,977.04 847.2,977.97 849.7,978.91 852.3,979.86 854.9,980.80 857.5,981.75 860.0,982.70 862.6,983.65 865.2,984.60 867.7,985.55 870.3,986.49 872.9,987.43 875.4,988.37 878.0,989.30 880.6,990.23 883.2,991.15 885.7,992.06 888.3,992.97 890.9,993.87 893.4,994.77 896.0,995.66 898.6,996.54 901.2,997.41 903.7,998.27 906.3,999.12 908.9,999.97 911.4,1000.80 914.0,1001.63 916.6,1002.45 919.1,1003.25 921.7,1004.05 924.3,1004.84 926.9,1005.62 929.4,1006.39 932.0,1007.14 934.6,1007.89 937.1,1008.63 939.7,1009.36 942.3,1010.08 944.9,1010.79 947.4,1011.48 950.0,1012.17 952.6,1012.85 955.1,1013.52 957.7,1014.18 960.3,1014.83 962.9,1015.47 965.4,1016.09 968.0,1016.71 970.6,1017.32 973.1,1017.93 975.7,1018.52 978.3,1019.10 980.8,1019.67 983.4,1020.24 986.0,1020.79 988.6,1021.34 991.1,1021.88 993.7,1022.40 996.3,1022.92 998.8,1023.44 1001.4,1023.94 1004.0,1024.43 1006.6,1024.92 1009.1,1025.40 1011.7,1025.87 1014.3,1026.34 1016.8,1026.79 1019.4,1027.24 1022.0,1027.68 1024.5,1028.11 1027.1,1028.54 1029.7,1028.96 1032.3,1029.37 1034.8,1029.77 1037.4,1030.17 1040.0,1030.56 1042.5,1030.95 1045.1,1031.33 1047.7,1031.70 1050.3,1032.06 1052.8,1032.42 1055.4,1032.78 1058.0,1033.12 1060.5,1033.46 1063.1,1033.80 1065.7,1034.13 1068.3,1034.45 1070.8,1034.77 1073.4,1035.09 1076.0,1035.39 1078.5,1035.70 1081.1,1035.99 1083.7,1036.29 1086.2,1036.57 1088.8,1036.86 1091.4,1037.13 1094.0,1037.41 1096.5,1037.68 1099.1,1037.94 1101.7,1038.20 1104.2,1038.45 1106.8,1038.70 1109.4,1038.95 1112.0,1039.19 1114.5,1039.43 1117.1,1039.67 1119.7,1039.90 1122.2,1040.12 1124.8,1040.35 1127.4,1040.56 1129.9,1040.78 1132.5,1040.99 1135.1,1041.20 1137.7,1041.40 1140.2,1041.61 1142.8,1041.80 1145.4,1042.00 1147.9,1042.19 1150.5,1042.38 1153.1,1042.56 1155.7,1042.74 1158.2,1042.92 1160.8,1043.10 1163.4,1043.27 1165.9,1043.44 1168.5,1043.61 1171.1,1043.77 1173.7,1043.94 1176.2,1044.09 1178.8,1044.25 1181.4,1044.41 1183.9,1044.56 1186.5,1044.71 1189.1,1044.85 1191.6,1045.00 1194.2,1045.14 1196.8,1045.28 1199.4,1045.42 1201.9,1045.55 1204.5,1045.68 1207.1,1045.82 1209.6,1045.94 1212.2,1046.07 1214.8,1046.20 1217.4,1046.32 1219.9,1046.44 1222.5,1046.56 1225.1,1046.67 1227.6,1046.79 1230.2,1046.90 1232.8,1047.01 1235.4,1047.12 1237.9,1047.23 1240.5,1047.34 1243.1,1047.44 1245.6,1047.55 1248.2,1047.65 1250.8,1047.75 1253.3,1047.84 1255.9,1047.94 1258.5,1048.04 1261.1,1048.13 1263.6,1048.22 1266.2,1048.31 1268.8,1048.40 1271.3,1048.49 1273.9,1048.58 1276.5,1048.66 1279.1,1048.75 1281.6,1048.83 1284.2,1048.91 1286.8,1048.99 1289.3,1049.07 1291.9,1049.15 1294.5,1049.23 1297.0,1049.30 1299.6,1049.38 1302.2,1049.45 1304.8,1049.52 1307.3,1049.59 1309.9,1049.66 1312.5,1049.73 1315.0,1049.80 1317.6,1049.87 1320.2,1049.93 1322.8,1050.00 1325.3,1050.06 1327.9,1050.12 1330.5,1050.19 1333.0,1050.25 1335.6,1050.31 1338.2,1050.37 1340.8,1050.43 1343.3,1050.48 1345.9,1050.54 1348.5,1050.60 1351.0,1050.65 1353.6,1050.71 1356.2,1050.76 1358.7,1050.81 1361.3,1050.87 1363.9,1050.92 1366.5,1050.97 1369.0,1051.02 1371.6,1051.07 1374.2,1051.12 1376.7,1051.16 1379.3,1051.21 1381.9,1051.26 1384.5,1051.30 1387.0,1051.35 1389.6,1051.39 1392.2,1051.44 1394.7,1051.48 1397.3,1051.52 1399.9,1051.56 1402.4,1051.61 1405.0,1051.65 1407.6,1051.69 1410.2,1051.73 1412.7,1051.77 1415.3,1051.81 1417.9,1051.84 1420.4,1051.88 1423.0,1051.92 1425.6,1051.96 1428.2,1051.99 1430.7,1052.03 1433.3,1052.06 1435.9,1052.10 1438.4,1052.13 1441.0,1052.17 1443.6,1052.20 1446.2,1052.23 1448.7,1052.26 1451.3,1052.30 1453.9,1052.33 1456.4,1052.36 1459.0,1052.39 1461.6,1052.42 1464.1,1052.45 1466.7,1052.48 1469.3,1052.51 1471.9,1052.54 1474.4,1052.57 1477.0,1052.59 1479.6,1052.62 1482.1,1052.65 1484.7,1052.68 1487.3,1052.70 1489.9,1052.73 1492.4,1052.75 1495.0,1052.78 1497.6,1052.80 1500.1,1052.83 1502.7,1052.85 1505.3,1052.88 1507.8,1052.90 1510.4,1052.93 1513.0,1052.95 1515.6,1052.97 1518.1,1053.00 1520.7,1053.02 1523.3,1053.04 1525.8,1053.06 1528.4,1053.08 1531.0,1053.11 1533.6,1053.13 1536.1,1053.15 1538.7,1053.17 1541.3,1053.19 1543.8,1053.21 1546.4,1053.23 1549.0,1053.25 1551.6,1053.27 1554.1,1053.29 1556.7,1053.30 1559.3,1053.32 1561.8,1053.34 1564.4,1053.36 1567.0,1053.38 1569.5,1053.40 1572.1,1053.41 1574.7,1053.43 1577.3,1053.45 1579.8,1053.46 1582.4,1053.48 1585.0,1053.50 1587.5,1053.51 1590.1,1053.53 1592.7,1053.55 1595.3,1053.56 1597.8,1053.58 1600.4,1053.59 1603.0,1053.61 1605.5,1053.62 1608.1,1053.64 1610.7,1053.65 1613.3,1053.67 1615.8,1053.68 1618.4,1053.69 1621.0,1053.71 1623.5,1053.72 1626.1,1053.74 1628.7,1053.75 1631.2,1053.76 1633.8,1053.77 1636.4,1053.79 1639.0,1053.80 1641.5,1053.81 1644.1,1053.83 1646.7,1053.84 1649.2,1053.85 1651.8,1053.86 1654.4,1053.87 1657.0,1053.89 1659.5,1053.90 1662.1,1053.91 1664.7,1053.92 1667.2,1053.93 1669.8,1053.94 1672.4,1053.95 1674.9,1053.97 1677.5,1053.98 1680.1,1053.99 1682.7,1054.00 1685.2,1054.01 1687.8,1054.02 1690.4,1054.03 1692.9,1054.04 1695.5,1054.05 1698.1,1054.06 1700.7,1054.07 1703.2,1054.08 1705.8,1054.09 1708.4,1054.10 1710.9,1054.11 1713.5,1054.11 1716.1,1054.12 1718.7,1054.13 1721.2,1054.14 1723.8,1054.15 1726.4,1054.16 1728.9,1054.17 1731.5,1054.18 1734.1,1054.18 1736.6,1054.19 1739.2,1054.20 1741.8,1054.21 1744.4,1054.22 1746.9,1054.23 1749.5,1054.23 1752.1,1054.24 1754.6,1054.25 1757.2,1054.26 1759.8,1054.26 1762.4,1054.27 1764.9,1054.28 1767.5,1054.29 1770.1,1054.29 1772.6,1054.30 1775.2,1054.31 1777.8,1054.32 1780.3,1054.32 1782.9,1054.33 1785.5,1054.34 1788.1,1054.34 1790.6,1054.35 1793.2,1054.36 1795.8,1054.36 1798.3,1054.37 1800.9,1054.37 1803.5,1054.38 1806.1,1054.39 1808.6,1054.39 1811.2,1054.40 1813.8,1054.41 1816.3,1054.41 1818.9,1054.42 1821.5,1054.42 1824.1,1054.43 1826.6,1054.44 1829.2,1054.44 1831.8,1054.45 1834.3,1054.45 1836.9,1054.46 1839.5,1054.46 1842.0,1054.47 1844.6,1054.47 1847.2,1054.48 1849.8,1054.48 1852.3,1054.49 1854.9,1054.49 1857.5,1054.50 1860.0,1054.50 1862.6,1054.51 1865.2,1054.51 1867.8,1054.52 1870.3,1054.52 1872.9,1054.53 1875.5,1054.53 1878.0,1054.54 1880.6,1054.54 1883.2,1054.55 1885.7,1054.55 1888.3,1054.56 1890.9,1054.56 1893.5,1054.57 1896.0,1054.57 1898.6,1054.57 1901.2,1054.58 1903.7,1054.58 1906.3,1054.59 1908.9,1054.59 1911.5,1054.60 1914.0,1054.60 1916.6,1054.60 1919.2,1054.61 1921.7,1054.61 1924.3,1054.62 1926.9,1054.62 1929.5,1054.62 1932.0,1054.63 1934.6,1054.63 1937.2,1054.63 1939.7,1054.64 1942.3,1054.64 1944.9,1054.65 1947.4,1054.65 1950.0,1054.65 1952.6,1054.66 1955.2,1054.66 1957.7,1054.66 1960.3,1054.67 1962.9,1054.67 1965.4,1054.67 1968.0,1054.68 1970.6,1054.68 1973.2,1054.68 1975.7,1054.69 1978.3,1054.69 1980.9,1054.69 1983.4,1054.70 1986.0,1054.70 1988.6,1054.70 1991.2,1054.71 1993.7,1054.71 1996.3,1054.71 1998.9,1054.71 2001.4,1054.72 2004.0,1054.72 2006.6,1054.72 2009.1,1054.73 2011.7,1054.73 2014.3,1054.73 2016.9,1054.74 2019.4,1054.74 2022.0,1054.74 2024.6,1054.74 2027.1,1054.75 2029.7,1054.75 2032.3,1054.75 2034.9,1054.75 2037.4,1054.76 2040.0,1054.76 2042.6,1054.76 2045.1,1054.76 2047.7,1054.77 2050.3,1054.77 2052.8,1054.77 2055.4,1054.77 2058.0,1054.78 2060.6,1054.78 2063.1,1054.78 2065.7,1054.78 2068.3,1054.79 2070.8,1054.79 2073.4,1054.79 2076.0,1054.79 2078.6,1054.80 2081.1,1054.80 2083.7,1054.80 2086.3,1054.80 2088.8,1054.80 2091.4,1054.81 2094.0,1054.81 2096.6,1054.81 2099.1,1054.81 2101.7,1054.81 2104.3,1054.82 2106.8,1054.82 2109.4,1054.82 2112.0,1054.82 2114.5,1054.82 2117.1,1054.83 2119.7,1054.83 2122.3,1054.83 2124.8,1054.83 2127.4,1054.83 2130.0,1054.84 2132.5,1054.84 2135.1,1054.84 2137.7,1054.84 2140.3,1054.84 2142.8,1054.85 2145.4,1054.85 2148.0,1054.85 2150.5,1054.85 2153.1,1054.85 2155.7,1054.85 2158.2,1054.86 2160.8,1054.86 2163.4,1054.86 2166.0,1054.86 2168.5,1054.86 2171.1,1054.86 2173.7,1054.87 2176.2,1054.87 2178.8,1054.87 2181.4,1054.87 2184.0,1054.87 2186.5,1054.87 2189.1,1054.88 2191.7,1054.88 2194.2,1054.88 2196.8,1054.88 2199.4,1054.88 2202.0,1054.88 2204.5,1054.89 2207.1,1054.89 2209.7,1054.89 2212.2,1054.89 2214.8,1054.89 2217.4,1054.89 2219.9,1054.89 2222.5,1054.90 2225.1,1054.90 2227.7,1054.90 2230.2,1054.90 2232.8,1054.90 2235.4,1054.90 2237.9,1054.90 2240.5,1054.90 2243.1,1054.91 2245.7,1054.91 2248.2,1054.91 2250.8,1054.91 2253.4,1054.91 2255.9,1054.91 2258.5,1054.91 2261.1,1054.91 2263.7,1054.92 2266.2,1054.92 2268.8,1054.92 2271.4,1054.92 2273.9,1054.92 2276.5,1054.92 2279.1,1054.92 2281.6,1054.92 2284.2,1054.93 2286.8,1054.93 2289.4,1054.93 2291.9,1054.93 2294.5,1054.93 2297.1,1054.93 2299.6,1054.93 2302.2,1054.93 2304.8,1054.93 2307.4,1054.94 2309.9,1054.94 2312.5,1054.94 2315.1,1054.94 2317.6,1054.94 2320.2,1054.94 2322.8,1054.94 2325.3,1054.94 2327.9,1054.94 2330.5,1054.95 2333.1,1054.95 2335.6,1054.95 2338.2,1054.95 2340.8,1054.95 2343.3,1054.95 2345.9,1054.95 2348.5,1054.95 2351.1,1054.95 2353.6,1054.95 2356.2,1054.95 2358.8,1054.96 2361.3,1054.96 2363.9,1054.96 2366.5,1054.96 2369.1,1054.96 2371.6,1054.96 2374.2,1054.96 2376.8,1054.96 2379.3,1054.96 2381.9,1054.96 2384.5,1054.96 2387.0,1054.97 2389.6,1054.97 2392.2,1054.97 2394.8,1054.97 2397.3,1054.97 2399.9,1054.97" fill="none" stroke="#0072BD" stroke-width="5.3" stroke-linejoin="round"/>
<polyline points="369.0,1055.10 371.6,1055.10 374.1,1055.10 376.7,1055.10 379.3,1055.10 381.9,1055.10 384.4,1055.10 387.0,1055.10 389.6,1055.10 392.1,1055.10 394.7,1055.10 397.3,1055.10 399.9,1055.10 402.4,1055.10 405.0,1055.10 407.6,1055.10 410.1,1055.10 412.7,1055.10 415.3,1055.10 417.9,1055.10 420.4,1055.10 423.0,1055.10 425.6,1055.10 428.1,1055.10 430.7,1055.10 433.3,1055.10 435.8,1055.10 438.4,1055.10 441.0,1055.10 443.6,1055.10 446.1,1055.10 448.7,1055.10 451.3,1055.10 453.8,1055.10 456.4,1055.10 459.0,1055.10 461.6,1055.10 464.1,1055.10 466.7,1055.10 469.3,1055.10 471.8,1055.10 474.4,1055.10 477.0,1055.10 479.5,1055.10 482.1,1055.10 484.7,1055.10 487.3,1055.10 489.8,1055.10 492.4,1055.10 495.0,1055.10 497.5,1055.10 500.1,1055.10 502.7,1055.10 505.3,1055.10 507.8,1055.10 510.4,1055.10 513.0,1055.10 515.5,1055.10 518.1,1055.10 520.7,1055.10 523.3,1055.10 525.8,1055.10 528.4,1055.10 531.0,1055.10 533.5,1055.10 536.1,1055.10 538.7,1055.10 541.2,1055.10 543.8,1055.10 546.4,1055.10 549.0,1055.10 551.5,1055.10 554.1,1055.10 556.7,1055.10 559.2,1055.10 561.8,1055.10 564.4,1055.10 567.0,1055.10 569.5,1055.10 572.1,1055.10 574.7,1055.10 577.2,1055.10 579.8,1055.09 582.4,1055.09 585.0,1055.09 587.5,1055.08 590.1,1055.06 592.7,1055.05 595.2,1055.02 597.8,1054.99 600.4,1054.94 602.9,1054.88 605.5,1054.79 608.1,1054.69 610.7,1054.56 613.2,1054.40 615.8,1054.20 618.4,1053.96 620.9,1053.68 623.5,1053.34 626.1,1052.95 628.7,1052.50 631.2,1051.99 633.8,1051.41 636.4,1050.76 638.9,1050.04 641.5,1049.24 644.1,1048.37 646.6,1047.42 649.2,1046.38 651.8,1045.27 654.4,1044.08 656.9,1042.81 659.5,1041.46 662.1,1040.02 664.6,1038.51 667.2,1036.90 669.8,1035.22 672.4,1033.44 674.9,1031.57 677.5,1029.61 680.1,1027.54 682.6,1025.36 685.2,1023.07 687.8,1020.65 690.4,1018.09 692.9,1015.39 695.5,1012.53 698.1,1009.49 700.6,1006.26 703.2,1002.83 705.8,999.18 708.3,995.29 710.9,991.16 713.5,986.76 716.1,982.09 718.6,977.15 721.2,971.92 723.8,966.41 726.3,960.62 728.9,954.57 731.5,948.29 734.1,941.81 736.6,935.17 739.2,928.43 741.8,921.65 744.3,914.92 746.9,908.32 749.5,901.95 752.0,895.91 754.6,890.30 757.2,885.23 759.8,880.80 762.3,877.11 764.9,874.23 767.5,872.22 770.0,871.12 772.6,870.95 775.2,871.46 777.8,872.58 780.3,874.28 782.9,876.54 785.5,879.31 788.0,882.55 790.6,886.22 793.2,890.26 795.8,894.62 798.3,899.24 800.9,904.08 803.5,909.06 806.0,914.16 808.6,919.31 811.2,924.47 813.7,929.61 816.3,934.69 818.9,939.67 821.5,944.54 824.0,949.27 826.6,953.83 829.2,958.23 831.7,962.45 834.3,966.49 836.9,970.33 839.5,973.98 842.0,977.44 844.6,980.71 847.2,983.80 849.7,986.72 852.3,989.46 854.9,992.04 857.5,994.46 860.0,996.73 862.6,998.86 865.2,1000.86 867.7,1002.73 870.3,1004.49 872.9,1006.14 875.4,1007.68 878.0,1009.13 880.6,1010.50 883.2,1011.78 885.7,1012.98 888.3,1014.11 890.9,1015.18 893.4,1016.19 896.0,1017.14 898.6,1018.04 901.2,1018.90 903.7,1019.71 906.3,1020.49 908.9,1021.22 911.4,1021.93 914.0,1022.60 916.6,1023.24 919.1,1023.86 921.7,1024.46 924.3,1025.03 926.9,1025.58 929.4,1026.12 932.0,1026.64 934.6,1027.14 937.1,1027.63 939.7,1028.10 942.3,1028.56 944.9,1029.01 947.4,1029.45 950.0,1029.88 952.6,1030.30 955.1,1030.71 957.7,1031.11 960.3,1031.50 962.9,1031.89 965.4,1032.27 968.0,1032.64 970.6,1033.00 973.1,1033.36 975.7,1033.71 978.3,1034.05 980.8,1034.39 983.4,1034.72 986.0,1035.05 988.6,1035.37 991.1,1035.68 993.7,1036.00 996.3,1036.30 998.8,1036.60 1001.4,1036.89 1004.0,1037.18 1006.6,1037.47 1009.1,1037.75 1011.7,1038.03 1014.3,1038.30 1016.8,1038.56 1019.4,1038.82 1022.0,1039.08 1024.5,1039.33 1027.1,1039.58 1029.7,1039.83 1032.3,1040.07 1034.8,1040.31 1037.4,1040.54 1040.0,1040.77 1042.5,1040.99 1045.1,1041.21 1047.7,1041.43 1050.3,1041.64 1052.8,1041.85 1055.4,1042.06 1058.0,1042.26 1060.5,1042.46 1063.1,1042.66 1065.7,1042.85 1068.3,1043.04 1070.8,1043.23 1073.4,1043.41 1076.0,1043.59 1078.5,1043.77 1081.1,1043.94 1083.7,1044.11 1086.2,1044.28 1088.8,1044.44 1091.4,1044.61 1094.0,1044.76 1096.5,1044.92 1099.1,1045.08 1101.7,1045.23 1104.2,1045.38 1106.8,1045.52 1109.4,1045.67 1112.0,1045.81 1114.5,1045.95 1117.1,1046.08 1119.7,1046.22 1122.2,1046.35 1124.8,1046.48 1127.4,1046.61 1129.9,1046.73 1132.5,1046.86 1135.1,1046.98 1137.7,1047.10 1140.2,1047.22 1142.8,1047.33 1145.4,1047.45 1147.9,1047.56 1150.5,1047.67 1153.1,1047.78 1155.7,1047.88 1158.2,1047.99 1160.8,1048.09 1163.4,1048.19 1165.9,1048.29 1168.5,1048.39 1171.1,1048.48 1173.7,1048.58 1176.2,1048.67 1178.8,1048.76 1181.4,1048.85 1183.9,1048.94 1186.5,1049.03 1189.1,1049.11 1191.6,1049.20 1194.2,1049.28 1196.8,1049.36 1199.4,1049.44 1201.9,1049.52 1204.5,1049.60 1207.1,1049.68 1209.6,1049.75 1212.2,1049.83 1214.8,1049.90 1217.4,1049.97 1219.9,1050.04 1222.5,1050.11 1225.1,1050.18 1227.6,1050.25 1230.2,1050.31 1232.8,1050.38 1235.4,1050.44 1237.9,1050.50 1240.5,1050.57 1243.1,1050.63 1245.6,1050.69 1248.2,1050.75 1250.8,1050.80 1253.3,1050.86 1255.9,1050.92 1258.5,1050.97 1261.1,1051.03 1263.6,1051.08 1266.2,1051.14 1268.8,1051.19 1271.3,1051.24 1273.9,1051.29 1276.5,1051.34 1279.1,1051.39 1281.6,1051.44 1284.2,1051.49 1286.8,1051.53 1289.3,1051.58 1291.9,1051.62 1294.5,1051.67 1297.0,1051.71 1299.6,1051.76 1302.2,1051.80 1304.8,1051.84 1307.3,1051.88 1309.9,1051.92 1312.5,1051.96 1315.0,1052.00 1317.6,1052.04 1320.2,1052.08 1322.8,1052.12 1325.3,1052.16 1327.9,1052.19 1330.5,1052.23 1333.0,1052.27 1335.6,1052.30 1338.2,1052.34 1340.8,1052.37 1343.3,1052.40 1345.9,1052.44 1348.5,1052.47 1351.0,1052.50 1353.6,1052.53 1356.2,1052.56 1358.7,1052.60 1361.3,1052.63 1363.9,1052.66 1366.5,1052.69 1369.0,1052.72 1371.6,1052.74 1374.2,1052.77 1376.7,1052.80 1379.3,1052.83 1381.9,1052.85 1384.5,1052.88 1387.0,1052.91 1389.6,1052.93 1392.2,1052.96 1394.7,1052.99 1397.3,1053.01 1399.9,1053.03 1402.4,1053.06 1405.0,1053.08 1407.6,1053.11 1410.2,1053.13 1412.7,1053.15 1415.3,1053.18 1417.9,1053.20 1420.4,1053.22 1423.0,1053.24 1425.6,1053.26 1428.2,1053.28 1430.7,1053.30 1433.3,1053.33 1435.9,1053.35 1438.4,1053.37 1441.0,1053.39 1443.6,1053.41 1446.2,1053.42 1448.7,1053.44 1451.3,1053.46 1453.9,1053.48 1456.4,1053.50 1459.0,1053.52 1461.6,1053.53 1464.1,1053.55 1466.7,1053.57 1469.3,1053.59 1471.9,1053.60 1474.4,1053.62 1477.0,1053.64 1479.6,1053.65 1482.1,1053.67 1484.7,1053.68 1487.3,1053.70 1489.9,1053.71 1492.4,1053.73 1495.0,1053.74 1497.6,1053.76 1500.1,1053.77 1502.7,1053.79 1505.3,1053.80 1507.8,1053.82 1510.4,1053.83 1513.0,1053.84 1515.6,1053.86 1518.1,1053.87 1520.7,1053.88 1523.3,1053.90 1525.8,1053.91 1528.4,1053.92 1531.0,1053.93 1533.6,1053.95 1536.1,1053.96 1538.7,1053.97 1541.3,1053.98 1543.8,1053.99 1546.4,1054.01 1549.0,1054.02 1551.6,1054.03 1554.1,1054.04 1556.7,1054.05 1559.3,1054.06 1561.8,1054.07 1564.4,1054.08 1567.0,1054.09 1569.5,1054.10 1572.1,1054.11 1574.7,1054.12 1577.3,1054.13 1579.8,1054.14 1582.4,1054.15 1585.0,1054.16 1587.5,1054.17 1590.1,1054.18 1592.7,1054.19 1595.3,1054.20 1597.8,1054.21 1600.4,1054.22 1603.0,1054.23 1605.5,1054.24 1608.1,1054.25 1610.7,1054.25 1613.3,1054.26 1615.8,1054.27 1618.4,1054.28 1621.0,1054.29 1623.5,1054.29 1626.1,1054.30 1628.7,1054.31 1631.2,1054.32 1633.8,1054.33 1636.4,1054.33 1639.0,1054.34 1641.5,1054.35 1644.1,1054.36 1646.7,1054.36 1649.2,1054.37 1651.8,1054.38 1654.4,1054.38 1657.0,1054.39 1659.5,1054.40 1662.1,1054.40 1664.7,1054.41 1667.2,1054.42 1669.8,1054.42 1672.4,1054.43 1674.9,1054.44 1677.5,1054.44 1680.1,1054.45 1682.7,1054.46 1685.2,1054.46 1687.8,1054.47 1690.4,1054.47 1692.9,1054.48 1695.5,1054.49 1698.1,1054.49 1700.7,1054.50 1703.2,1054.50 1705.8,1054.51 1708.4,1054.51 1710.9,1054.52 1713.5,1054.52 1716.1,1054.53 1718.7,1054.54 1721.2,1054.54 1723.8,1054.55 1726.4,1054.55 1728.9,1054.56 1731.5,1054.56 1734.1,1054.57 1736.6,1054.57 1739.2,1054.58 1741.8,1054.58 1744.4,1054.58 1746.9,1054.59 1749.5,1054.59 1752.1,1054.60 1754.6,1054.60 1757.2,1054.61 1759.8,1054.61 1762.4,1054.62 1764.9,1054.62 1767.5,1054.62 1770.1,1054.63 1772.6,1054.63 1775.2,1054.64 1777.8,1054.64 1780.3,1054.65 1782.9,1054.65 1785.5,1054.65 1788.1,1054.66 1790.6,1054.66 1793.2,1054.67 1795.8,1054.67 1798.3,1054.67 1800.9,1054.68 1803.5,1054.68 1806.1,1054.68 1808.6,1054.69 1811.2,1054.69 1813.8,1054.69 1816.3,1054.70 1818.9,1054.70 1821.5,1054.70 1824.1,1054.71 1826.6,1054.71 1829.2,1054.71 1831.8,1054.72 1834.3,1054.72 1836.9,1054.72 1839.5,1054.73 1842.0,1054.73 1844.6,1054.73 1847.2,1054.74 1849.8,1054.74 1852.3,1054.74 1854.9,1054.75 1857.5,1054.75 1860.0,1054.75 1862.6,1054.76 1865.2,1054.76 1867.8,1054.76 1870.3,1054.76 1872.9,1054.77 1875.5,1054.77 1878.0,1054.77 1880.6,1054.77 1883.2,1054.78 1885.7,1054.78 1888.3,1054.78 1890.9,1054.79 1893.5,1054.79 1896.0,1054.79 1898.6,1054.79 1901.2,1054.80 1903.7,1054.80 1906.3,1054.80 1908.9,1054.80 1911.5,1054.81 1914.0,1054.81 1916.6,1054.81 1919.2,1054.81 1921.7,1054.81 1924.3,1054.82 1926.9,1054.82 1929.5,1054.82 1932.0,1054.82 1934.6,1054.83 1937.2,1054.83 1939.7,1054.83 1942.3,1054.83 1944.9,1054.83 1947.4,1054.84 1950.0,1054.84 1952.6,1054.84 1955.2,1054.84 1957.7,1054.85 1960.3,1054.85 1962.9,1054.85 1965.4,1054.85 1968.0,1054.85 1970.6,1054.85 1973.2,1054.86 1975.7,1054.86 1978.3,1054.86 1980.9,1054.86 1983.4,1054.86 1986.0,1054.87 1988.6,1054.87 1991.2,1054.87 1993.7,1054.87 1996.3,1054.87 1998.9,1054.88 2001.4,1054.88 2004.0,1054.88 2006.6,1054.88 2009.1,1054.88 2011.7,1054.88 2014.3,1054.89 2016.9,1054.89 2019.4,1054.89 2022.0,1054.89 2024.6,1054.89 2027.1,1054.89 2029.7,1054.89 2032.3,1054.90 2034.9,1054.90 2037.4,1054.90 2040.0,1054.90 2042.6,1054.90 2045.1,1054.90 2047.7,1054.91 2050.3,1054.91 2052.8,1054.91 2055.4,1054.91 2058.0,1054.91 2060.6,1054.91 2063.1,1054.91 2065.7,1054.92 2068.3,1054.92 2070.8,1054.92 2073.4,1054.92 2076.0,1054.92 2078.6,1054.92 2081.1,1054.92 2083.7,1054.92 2086.3,1054.93 2088.8,1054.93 2091.4,1054.93 2094.0,1054.93 2096.6,1054.93 2099.1,1054.93 2101.7,1054.93 2104.3,1054.93 2106.8,1054.94 2109.4,1054.94 2112.0,1054.94 2114.5,1054.94 2117.1,1054.94 2119.7,1054.94 2122.3,1054.94 2124.8,1054.94 2127.4,1054.95 2130.0,1054.95 2132.5,1054.95 2135.1,1054.95 2137.7,1054.95 2140.3,1054.95 2142.8,1054.95 2145.4,1054.95 2148.0,1054.95 2150.5,1054.95 2153.1,1054.96 2155.7,1054.96 2158.2,1054.96 2160.8,1054.96 2163.4,1054.96 2166.0,1054.96 2168.5,1054.96 2171.1,1054.96 2173.7,1054.96 2176.2,1054.96 2178.8,1054.97 2181.4,1054.97 2184.0,1054.97 2186.5,1054.97 2189.1,1054.97 2191.7,1054.97 2194.2,1054.97 2196.8,1054.97 2199.4,1054.97 2202.0,1054.97 2204.5,1054.97 2207.1,1054.98 2209.7,1054.98 2212.2,1054.98 2214.8,1054.98 2217.4,1054.98 2219.9,1054.98 2222.5,1054.98 2225.1,1054.98 2227.7,1054.98 2230.2,1054.98 2232.8,1054.98 2235.4,1054.98 2237.9,1054.99 2240.5,1054.99 2243.1,1054.99 2245.7,1054.99 2248.2,1054.99 2250.8,1054.99 2253.4,1054.99 2255.9,1054.99 2258.5,1054.99 2261.1,1054.99 2263.7,1054.99 2266.2,1054.99 2268.8,1054.99 2271.4,1054.99 2273.9,1055.00 2276.5,1055.00 2279.1,1055.00 2281.6,1055.00 2284.2,1055.00 2286.8,1055.00 2289.4,1055.00 2291.9,1055.00 2294.5,1055.00 2297.1,1055.00 2299.6,1055.00 2302.2,1055.00 2304.8,1055.00 2307.4,1055.00 2309.9,1055.00 2312.5,1055.01 2315.1,1055.01 2317.6,1055.01 2320.2,1055.01 2322.8,1055.01 2325.3,1055.01 2327.9,1055.01 2330.5,1055.01 2333.1,1055.01 2335.6,1055.01 2338.2,1055.01 2340.8,1055.01 2343.3,1055.01 2345.9,1055.01 2348.5,1055.01 2351.1,1055.01 2353.6,1055.01 2356.2,1055.02 2358.8,1055.02 2361.3,1055.02 2363.9,1055.02 2366.5,1055.02 2369.1,1055.02 2371.6,1055.02 2374.2,1055.02 2376.8,1055.02 2379.3,1055.02 2381.9,1055.02 2384.5,1055.02 2387.0,1055.02 2389.6,1055.02 2392.2,1055.02 2394.8,1055.02 2397.3,1055.02 2399.9,1055.02" fill="none" stroke="#D95319" stroke-width="5.3" stroke-linejoin="round"/>
<text transform="translate(341.90,1141.50) scale(1,1.015)" font-size="61.5" fill="#262626" text-anchor="middle" stroke="#fff" stroke-width="1.1">0</text>
<text transform="translate(598.98,1141.50) scale(1,1.015)" font-size="61.5" fill="#262626" text-anchor="middle" stroke="#fff" stroke-width="1.1">0.1</text>
<text transform="translate(856.05,1141.50) scale(1,1.015)" font-size="61.5" fill="#262626" text-anchor="middle" stroke="#fff" stroke-width="1.1">0.2</text>
<text transform="translate(1113.12,1141.50) scale(1,1.015)" font-size="61.5" fill="#262626" text-anchor="middle" stroke="#fff" stroke-width="1.1">0.3</text>
<text transform="translate(1370.20,1141.50) scale(1,1.015)" font-size="61.5" fill="#262626" text-anchor="middle" stroke="#fff" stroke-width="1.1">0.4</text>
<text transform="translate(1627.27,1141.50) scale(1,1.015)" font-size="61.5" fill="#262626" text-anchor="middle" stroke="#fff" stroke-width="1.1">0.5</text>
<text transform="translate(1884.35,1141.50) scale(1,1.015)" font-size="61.5" fill="#262626" text-anchor="middle" stroke="#fff" stroke-width="1.1">0.6</text>
<text transform="translate(2141.43,1141.50) scale(1,1.015)" font-size="61.5" fill="#262626" text-anchor="middle" stroke="#fff" stroke-width="1.1">0.7</text>
<text transform="translate(2398.50,1141.50) scale(1,1.015)" font-size="61.5" fill="#262626" text-anchor="middle" stroke="#fff" stroke-width="1.1">0.8</text>
<text transform="translate(315.30,1078.10) scale(1,1.015)" font-size="61.5" fill="#262626" text-anchor="end" stroke="#fff" stroke-width="1.1">0</text>
<text transform="translate(315.30,906.55) scale(1,1.015)" font-size="61.5" fill="#262626" text-anchor="end" stroke="#fff" stroke-width="1.1">2</text>
<text transform="translate(315.30,735.00) scale(1,1.015)" font-size="61.5" fill="#262626" text-anchor="end" stroke="#fff" stroke-width="1.1">4</text>
<text transform="translate(1370.60,662.75) scale(1,1.04)" font-size="68" font-weight="bold" fill="#000" text-anchor="middle">T<tspan font-size="47.5" dy="31">p</tspan><tspan dy="-31" dx="2.5"> = 6 s, H</tspan><tspan font-size="47.5" dy="31">s</tspan><tspan dy="-31" dx="2.5"> = 1.44 m</tspan></text>
<text transform="translate(149.60,882.05) rotate(-90) scale(1,1.03)" font-size="67.8" fill="#262626" text-anchor="middle" stroke="#fff" stroke-width="1.1">Spec Density</text>
<text transform="translate(247.60,882.05) rotate(-90) scale(1,1.03)" font-size="67.8" fill="#262626" text-anchor="middle" stroke="#fff" stroke-width="1.1">(m<tspan font-size="47.5" dy="-31">2</tspan><tspan dy="31">/Hz)</tspan></text>
<path d="M343.3,1293.06H2399.9V1637.4H343.3ZM343.30,1637.4v-21M343.30,1293.06v21M600.38,1637.4v-21M600.38,1293.06v21M857.45,1637.4v-21M857.45,1293.06v21M1114.53,1637.4v-21M1114.53,1293.06v21M1371.60,1637.4v-21M1371.60,1293.06v21M1628.67,1637.4v-21M1628.67,1293.06v21M1885.75,1637.4v-21M1885.75,1293.06v21M2142.83,1637.4v-21M2142.83,1293.06v21M2399.90,1637.4v-21M2399.90,1293.06v21M343.3,1637.40h21M2399.9,1637.40h-21M343.3,1465.23h21M2399.9,1465.23h-21M343.3,1293.06h21M2399.9,1293.06h-21" fill="none" stroke="#3a3a3a" stroke-width="3.0" stroke-linecap="square"/>
<polyline points="369.0,1637.40 371.6,1637.40 374.1,1637.40 376.7,1637.40 379.3,1637.40 381.9,1637.40 384.4,1637.40 387.0,1637.40 389.6,1637.40 392.1,1637.40 394.7,1637.40 397.3,1637.40 399.9,1637.40 402.4,1637.40 405.0,1637.40 407.6,1637.40 410.1,1637.40 412.7,1637.40 415.3,1637.40 417.9,1637.40 420.4,1637.40 423.0,1637.40 425.6,1637.40 428.1,1637.40 430.7,1637.40 433.3,1637.40 435.8,1637.40 438.4,1637.40 441.0,1637.40 443.6,1637.40 446.1,1637.40 448.7,1637.40 451.3,1637.40 453.8,1637.40 456.4,1637.40 459.0,1637.40 461.6,1637.40 464.1,1637.40 466.7,1637.40 469.3,1637.40 471.8,1637.40 474.4,1637.40 477.0,1637.40 479.5,1637.40 482.1,1637.40 484.7,1637.40 487.3,1637.40 489.8,1637.40 492.4,1637.40 495.0,1637.40 497.5,1637.40 500.1,1637.40 502.7,1637.40 505.3,1637.40 507.8,1637.40 510.4,1637.40 513.0,1637.40 515.5,1637.40 518.1,1637.39 520.7,1637.38 523.3,1637.37 525.8,1637.34 528.4,1637.30 531.0,1637.22 533.5,1637.10 536.1,1636.93 538.7,1636.68 541.2,1636.32 543.8,1635.83 546.4,1635.19 549.0,1634.35 551.5,1633.28 554.1,1631.96 556.7,1630.35 559.2,1628.44 561.8,1626.18 564.4,1623.58 567.0,1620.61 569.5,1617.29 572.1,1613.60 574.7,1609.56 577.2,1605.19 579.8,1600.50 582.4,1595.54 585.0,1590.33 587.5,1584.90 590.1,1579.30 592.7,1573.57 595.2,1567.75 597.8,1561.88 600.4,1556.01 602.9,1550.16 605.5,1544.39 608.1,1538.73 610.7,1533.20 613.2,1527.84 615.8,1522.69 618.4,1517.75 620.9,1513.05 623.5,1508.60 626.1,1504.43 628.7,1500.54 631.2,1496.93 633.8,1493.62 636.4,1490.60 638.9,1487.88 641.5,1485.46 644.1,1483.32 646.6,1481.47 649.2,1479.89 651.8,1478.58 654.4,1477.54 656.9,1476.75 659.5,1476.19 662.1,1475.87 664.6,1475.76 667.2,1475.87 669.8,1476.16 672.4,1476.64 674.9,1477.29 677.5,1478.11 680.1,1479.07 682.6,1480.17 685.2,1481.40 687.8,1482.74 690.4,1484.20 692.9,1485.75 695.5,1487.39 698.1,1489.11 700.6,1490.90 703.2,1492.75 705.8,1494.66 708.3,1496.62 710.9,1498.62 713.5,1500.66 716.1,1502.72 718.6,1504.81 721.2,1506.92 723.8,1509.05 726.3,1511.18 728.9,1513.32 731.5,1515.46 734.1,1517.60 736.6,1519.74 739.2,1521.87 741.8,1523.98 744.3,1526.09 746.9,1528.18 749.5,1530.25 752.0,1532.30 754.6,1534.33 757.2,1536.34 759.8,1538.33 762.3,1540.29 764.9,1542.22 767.5,1544.13 770.0,1546.02 772.6,1547.87 775.2,1549.69 777.8,1551.49 780.3,1553.26 782.9,1554.99 785.5,1556.70 788.0,1558.37 790.6,1560.02 793.2,1561.64 795.8,1563.22 798.3,1564.78 800.9,1566.31 803.5,1567.80 806.0,1569.27 808.6,1570.71 811.2,1572.12 813.7,1573.50 816.3,1574.85 818.9,1576.17 821.5,1577.47 824.0,1578.74 826.6,1579.98 829.2,1581.19 831.7,1582.38 834.3,1583.55 836.9,1584.69 839.5,1585.80 842.0,1586.89 844.6,1587.96 847.2,1589.00 849.7,1590.02 852.3,1591.01 854.9,1591.99 857.5,1592.94 860.0,1593.87 862.6,1594.78 865.2,1595.67 867.7,1596.54 870.3,1597.39 872.9,1598.22 875.4,1599.04 878.0,1599.83 880.6,1600.61 883.2,1601.37 885.7,1602.11 888.3,1602.83 890.9,1603.54 893.4,1604.23 896.0,1604.91 898.6,1605.57 901.2,1606.22 903.7,1606.85 906.3,1607.47 908.9,1608.07 911.4,1608.66 914.0,1609.24 916.6,1609.80 919.1,1610.36 921.7,1610.89 924.3,1611.42 926.9,1611.94 929.4,1612.44 932.0,1612.93 934.6,1613.41 937.1,1613.88 939.7,1614.34 942.3,1614.79 944.9,1615.23 947.4,1615.66 950.0,1616.09 952.6,1616.50 955.1,1616.90 957.7,1617.29 960.3,1617.68 962.9,1618.05 965.4,1618.42 968.0,1618.78 970.6,1619.14 973.1,1619.48 975.7,1619.82 978.3,1620.15 980.8,1620.47 983.4,1620.79 986.0,1621.09 988.6,1621.40 991.1,1621.69 993.7,1621.98 996.3,1622.27 998.8,1622.54 1001.4,1622.82 1004.0,1623.08 1006.6,1623.34 1009.1,1623.60 1011.7,1623.85 1014.3,1624.09 1016.8,1624.33 1019.4,1624.56 1022.0,1624.79 1024.5,1625.02 1027.1,1625.24 1029.7,1625.45 1032.3,1625.66 1034.8,1625.87 1037.4,1626.07 1040.0,1626.27 1042.5,1626.46 1045.1,1626.65 1047.7,1626.84 1050.3,1627.02 1052.8,1627.20 1055.4,1627.38 1058.0,1627.55 1060.5,1627.72 1063.1,1627.88 1065.7,1628.04 1068.3,1628.20 1070.8,1628.36 1073.4,1628.51 1076.0,1628.66 1078.5,1628.80 1081.1,1628.95 1083.7,1629.09 1086.2,1629.23 1088.8,1629.36 1091.4,1629.49 1094.0,1629.62 1096.5,1629.75 1099.1,1629.88 1101.7,1630.00 1104.2,1630.12 1106.8,1630.24 1109.4,1630.35 1112.0,1630.47 1114.5,1630.58 1117.1,1630.69 1119.7,1630.79 1122.2,1630.90 1124.8,1631.00 1127.4,1631.10 1129.9,1631.20 1132.5,1631.30 1135.1,1631.40 1137.7,1631.49 1140.2,1631.58 1142.8,1631.67 1145.4,1631.76 1147.9,1631.85 1150.5,1631.93 1153.1,1632.02 1155.7,1632.10 1158.2,1632.18 1160.8,1632.26 1163.4,1632.34 1165.9,1632.42 1168.5,1632.49 1171.1,1632.57 1173.7,1632.64 1176.2,1632.71 1178.8,1632.78 1181.4,1632.85 1183.9,1632.92 1186.5,1632.98 1189.1,1633.05 1191.6,1633.11 1194.2,1633.18 1196.8,1633.24 1199.4,1633.30 1201.9,1633.36 1204.5,1633.42 1207.1,1633.47 1209.6,1633.53 1212.2,1633.59 1214.8,1633.64 1217.4,1633.70 1219.9,1633.75 1222.5,1633.80 1225.1,1633.85 1227.6,1633.90 1230.2,1633.95 1232.8,1634.00 1235.4,1634.05 1237.9,1634.10 1240.5,1634.14 1243.1,1634.19 1245.6,1634.23 1248.2,1634.28 1250.8,1634.32 1253.3,1634.36 1255.9,1634.40 1258.5,1634.45 1261.1,1634.49 1263.6,1634.53 1266.2,1634.57 1268.8,1634.60 1271.3,1634.64 1273.9,1634.68 1276.5,1634.72 1279.1,1634.75 1281.6,1634.79 1284.2,1634.82 1286.8,1634.86 1289.3,1634.89 1291.9,1634.92 1294.5,1634.96 1297.0,1634.99 1299.6,1635.02 1302.2,1635.05 1304.8,1635.08 1307.3,1635.11 1309.9,1635.14 1312.5,1635.17 1315.0,1635.20 1317.6,1635.23 1320.2,1635.26 1322.8,1635.29 1325.3,1635.31 1327.9,1635.34 1330.5,1635.37 1333.0,1635.39 1335.6,1635.42 1338.2,1635.44 1340.8,1635.47 1343.3,1635.49 1345.9,1635.52 1348.5,1635.54 1351.0,1635.56 1353.6,1635.59 1356.2,1635.61 1358.7,1635.63 1361.3,1635.65 1363.9,1635.68 1366.5,1635.70 1369.0,1635.72 1371.6,1635.74 1374.2,1635.76 1376.7,1635.78 1379.3,1635.80 1381.9,1635.82 1384.5,1635.84 1387.0,1635.86 1389.6,1635.88 1392.2,1635.89 1394.7,1635.91 1397.3,1635.93 1399.9,1635.95 1402.4,1635.96 1405.0,1635.98 1407.6,1636.00 1410.2,1636.02 1412.7,1636.03 1415.3,1636.05 1417.9,1636.06 1420.4,1636.08 1423.0,1636.10 1425.6,1636.11 1428.2,1636.13 1430.7,1636.14 1433.3,1636.16 1435.9,1636.17 1438.4,1636.18 1441.0,1636.20 1443.6,1636.21 1446.2,1636.23 1448.7,1636.24 1451.3,1636.25 1453.9,1636.27 1456.4,1636.28 1459.0,1636.29 1461.6,1636.30 1464.1,1636.32 1466.7,1636.33 1469.3,1636.34 1471.9,1636.35 1474.4,1636.36 1477.0,1636.38 1479.6,1636.39 1482.1,1636.40 1484.7,1636.41 1487.3,1636.42 1489.9,1636.43 1492.4,1636.44 1495.0,1636.45 1497.6,1636.46 1500.1,1636.47 1502.7,1636.48 1505.3,1636.49 1507.8,1636.50 1510.4,1636.51 1513.0,1636.52 1515.6,1636.53 1518.1,1636.54 1520.7,1636.55 1523.3,1636.56 1525.8,1636.57 1528.4,1636.58 1531.0,1636.59 1533.6,1636.60 1536.1,1636.60 1538.7,1636.61 1541.3,1636.62 1543.8,1636.63 1546.4,1636.64 1549.0,1636.65 1551.6,1636.65 1554.1,1636.66 1556.7,1636.67 1559.3,1636.68 1561.8,1636.68 1564.4,1636.69 1567.0,1636.70 1569.5,1636.71 1572.1,1636.71 1574.7,1636.72 1577.3,1636.73 1579.8,1636.74 1582.4,1636.74 1585.0,1636.75 1587.5,1636.76 1590.1,1636.76 1592.7,1636.77 1595.3,1636.77 1597.8,1636.78 1600.4,1636.79 1603.0,1636.79 1605.5,1636.80 1608.1,1636.81 1610.7,1636.81 1613.3,1636.82 1615.8,1636.82 1618.4,1636.83 1621.0,1636.84 1623.5,1636.84 1626.1,1636.85 1628.7,1636.85 1631.2,1636.86 1633.8,1636.86 1636.4,1636.87 1639.0,1636.87 1641.5,1636.88 1644.1,1636.88 1646.7,1636.89 1649.2,1636.89 1651.8,1636.90 1654.4,1636.90 1657.0,1636.91 1659.5,1636.91 1662.1,1636.92 1664.7,1636.92 1667.2,1636.93 1669.8,1636.93 1672.4,1636.94 1674.9,1636.94 1677.5,1636.94 1680.1,1636.95 1682.7,1636.95 1685.2,1636.96 1687.8,1636.96 1690.4,1636.97 1692.9,1636.97 1695.5,1636.97 1698.1,1636.98 1700.7,1636.98 1703.2,1636.99 1705.8,1636.99 1708.4,1636.99 1710.9,1637.00 1713.5,1637.00 1716.1,1637.00 1718.7,1637.01 1721.2,1637.01 1723.8,1637.02 1726.4,1637.02 1728.9,1637.02 1731.5,1637.03 1734.1,1637.03 1736.6,1637.03 1739.2,1637.04 1741.8,1637.04 1744.4,1637.04 1746.9,1637.05 1749.5,1637.05 1752.1,1637.05 1754.6,1637.06 1757.2,1637.06 1759.8,1637.06 1762.4,1637.07 1764.9,1637.07 1767.5,1637.07 1770.1,1637.07 1772.6,1637.08 1775.2,1637.08 1777.8,1637.08 1780.3,1637.09 1782.9,1637.09 1785.5,1637.09 1788.1,1637.09 1790.6,1637.10 1793.2,1637.10 1795.8,1637.10 1798.3,1637.10 1800.9,1637.11 1803.5,1637.11 1806.1,1637.11 1808.6,1637.11 1811.2,1637.12 1813.8,1637.12 1816.3,1637.12 1818.9,1637.12 1821.5,1637.13 1824.1,1637.13 1826.6,1637.13 1829.2,1637.13 1831.8,1637.14 1834.3,1637.14 1836.9,1637.14 1839.5,1637.14 1842.0,1637.15 1844.6,1637.15 1847.2,1637.15 1849.8,1637.15 1852.3,1637.15 1854.9,1637.16 1857.5,1637.16 1860.0,1637.16 1862.6,1637.16 1865.2,1637.16 1867.8,1637.17 1870.3,1637.17 1872.9,1637.17 1875.5,1637.17 1878.0,1637.17 1880.6,1637.18 1883.2,1637.18 1885.7,1637.18 1888.3,1637.18 1890.9,1637.18 1893.5,1637.18 1896.0,1637.19 1898.6,1637.19 1901.2,1637.19 1903.7,1637.19 1906.3,1637.19 1908.9,1637.19 1911.5,1637.20 1914.0,1637.20 1916.6,1637.20 1919.2,1637.20 1921.7,1637.20 1924.3,1637.20 1926.9,1637.21 1929.5,1637.21 1932.0,1637.21 1934.6,1637.21 1937.2,1637.21 1939.7,1637.21 1942.3,1637.22 1944.9,1637.22 1947.4,1637.22 1950.0,1637.22 1952.6,1637.22 1955.2,1637.22 1957.7,1637.22 1960.3,1637.23 1962.9,1637.23 1965.4,1637.23 1968.0,1637.23 1970.6,1637.23 1973.2,1637.23 1975.7,1637.23 1978.3,1637.23 1980.9,1637.24 1983.4,1637.24 1986.0,1637.24 1988.6,1637.24 1991.2,1637.24 1993.7,1637.24 1996.3,1637.24 1998.9,1637.24 2001.4,1637.25 2004.0,1637.25 2006.6,1637.25 2009.1,1637.25 2011.7,1637.25 2014.3,1637.25 2016.9,1637.25 2019.4,1637.25 2022.0,1637.26 2024.6,1637.26 2027.1,1637.26 2029.7,1637.26 2032.3,1637.26 2034.9,1637.26 2037.4,1637.26 2040.0,1637.26 2042.6,1637.26 2045.1,1637.26 2047.7,1637.27 2050.3,1637.27 2052.8,1637.27 2055.4,1637.27 2058.0,1637.27 2060.6,1637.27 2063.1,1637.27 2065.7,1637.27 2068.3,1637.27 2070.8,1637.27 2073.4,1637.28 2076.0,1637.28 2078.6,1637.28 2081.1,1637.28 2083.7,1637.28 2086.3,1637.28 2088.8,1637.28 2091.4,1637.28 2094.0,1637.28 2096.6,1637.28 2099.1,1637.28 2101.7,1637.29 2104.3,1637.29 2106.8,1637.29 2109.4,1637.29 2112.0,1637.29 2114.5,1637.29 2117.1,1637.29 2119.7,1637.29 2122.3,1637.29 2124.8,1637.29 2127.4,1637.29 2130.0,1637.29 2132.5,1637.29 2135.1,1637.30 2137.7,1637.30 2140.3,1637.30 2142.8,1637.30 2145.4,1637.30 2148.0,1637.30 2150.5,1637.30 2153.1,1637.30 2155.7,1637.30 2158.2,1637.30 2160.8,1637.30 2163.4,1637.30 2166.0,1637.30 2168.5,1637.30 2171.1,1637.31 2173.7,1637.31 2176.2,1637.31 2178.8,1637.31 2181.4,1637.31 2184.0,1637.31 2186.5,1637.31 2189.1,1637.31 2191.7,1637.31 2194.2,1637.31 2196.8,1637.31 2199.4,1637.31 2202.0,1637.31 2204.5,1637.31 2207.1,1637.31 2209.7,1637.31 2212.2,1637.32 2214.8,1637.32 2217.4,1637.32 2219.9,1637.32 2222.5,1637.32 2225.1,1637.32 2227.7,1637.32 2230.2,1637.32 2232.8,1637.32 2235.4,1637.32 2237.9,1637.32 2240.5,1637.32 2243.1,1637.32 2245.7,1637.32 2248.2,1637.32 2250.8,1637.32 2253.4,1637.32 2255.9,1637.32 2258.5,1637.33 2261.1,1637.33 2263.7,1637.33 2266.2,1637.33 2268.8,1637.33 2271.4,1637.33 2273.9,1637.33 2276.5,1637.33 2279.1,1637.33 2281.6,1637.33 2284.2,1637.33 2286.8,1637.33 2289.4,1637.33 2291.9,1637.33 2294.5,1637.33 2297.1,1637.33 2299.6,1637.33 2302.2,1637.33 2304.8,1637.33 2307.4,1637.33 2309.9,1637.33 2312.5,1637.33 2315.1,1637.34 2317.6,1637.34 2320.2,1637.34 2322.8,1637.34 2325.3,1637.34 2327.9,1637.34 2330.5,1637.34 2333.1,1637.34 2335.6,1637.34 2338.2,1637.34 2340.8,1637.34 2343.3,1637.34 2345.9,1637.34 2348.5,1637.34 2351.1,1637.34 2353.6,1637.34 2356.2,1637.34 2358.8,1637.34 2361.3,1637.34 2363.9,1637.34 2366.5,1637.34 2369.1,1637.34 2371.6,1637.34 2374.2,1637.34 2376.8,1637.34 2379.3,1637.34 2381.9,1637.35 2384.5,1637.35 2387.0,1637.35 2389.6,1637.35 2392.2,1637.35 2394.8,1637.35 2397.3,1637.35 2399.9,1637.35" fill="none" stroke="#0072BD" stroke-width="5.3" stroke-linejoin="round"/>
<polyline points="369.0,1637.40 371.6,1637.40 374.1,1637.40 376.7,1637.40 379.3,1637.40 381.9,1637.40 384.4,1637.40 387.0,1637.40 389.6,1637.40 392.1,1637.40 394.7,1637.40 397.3,1637.40 399.9,1637.40 402.4,1637.40 405.0,1637.40 407.6,1637.40 410.1,1637.40 412.7,1637.40 415.3,1637.40 417.9,1637.40 420.4,1637.40 423.0,1637.40 425.6,1637.40 428.1,1637.40 430.7,1637.40 433.3,1637.40 435.8,1637.40 438.4,1637.40 441.0,1637.40 443.6,1637.40 446.1,1637.40 448.7,1637.40 451.3,1637.40 453.8,1637.40 456.4,1637.40 459.0,1637.40 461.6,1637.40 464.1,1637.40 466.7,1637.40 469.3,1637.40 471.8,1637.40 474.4,1637.40 477.0,1637.40 479.5,1637.40 482.1,1637.40 484.7,1637.40 487.3,1637.40 489.8,1637.40 492.4,1637.40 495.0,1637.40 497.5,1637.40 500.1,1637.40 502.7,1637.40 505.3,1637.40 507.8,1637.40 510.4,1637.40 513.0,1637.40 515.5,1637.40 518.1,1637.40 520.7,1637.39 523.3,1637.38 525.8,1637.37 528.4,1637.34 531.0,1637.30 533.5,1637.23 536.1,1637.13 538.7,1636.98 541.2,1636.77 543.8,1636.48 546.4,1636.11 549.0,1635.61 551.5,1634.99 554.1,1634.21 556.7,1633.27 559.2,1632.14 561.8,1630.81 564.4,1629.26 567.0,1627.49 569.5,1625.49 572.1,1623.25 574.7,1620.78 577.2,1618.06 579.8,1615.10 582.4,1611.90 585.0,1608.44 587.5,1604.73 590.1,1600.76 592.7,1596.51 595.2,1591.96 597.8,1587.10 600.4,1581.88 602.9,1576.27 605.5,1570.22 608.1,1563.70 610.7,1556.63 613.2,1548.97 615.8,1540.65 618.4,1531.61 620.9,1521.79 623.5,1511.16 626.1,1499.68 628.7,1487.36 631.2,1474.20 633.8,1460.30 636.4,1445.75 638.9,1430.73 641.5,1415.47 644.1,1400.26 646.6,1385.45 649.2,1371.43 651.8,1358.61 654.4,1347.41 656.9,1338.23 659.5,1331.42 662.1,1327.23 664.6,1325.81 667.2,1326.74 669.8,1329.49 672.4,1333.96 674.9,1340.02 677.5,1347.50 680.1,1356.20 682.6,1365.92 685.2,1376.43 687.8,1387.52 690.4,1398.97 692.9,1410.60 695.5,1422.22 698.1,1433.70 700.6,1444.90 703.2,1455.72 705.8,1466.09 708.3,1475.95 710.9,1485.25 713.5,1493.99 716.1,1502.16 718.6,1509.75 721.2,1516.79 723.8,1523.30 726.3,1529.29 728.9,1534.81 731.5,1539.88 734.1,1544.54 736.6,1548.81 739.2,1552.73 741.8,1556.33 744.3,1559.64 746.9,1562.68 749.5,1565.48 752.0,1568.06 754.6,1570.45 757.2,1572.66 759.8,1574.71 762.3,1576.63 764.9,1578.41 767.5,1580.09 770.0,1581.66 772.6,1583.15 775.2,1584.56 777.8,1585.89 780.3,1587.16 782.9,1588.37 785.5,1589.54 788.0,1590.65 790.6,1591.73 793.2,1592.76 795.8,1593.77 798.3,1594.74 800.9,1595.68 803.5,1596.59 806.0,1597.48 808.6,1598.35 811.2,1599.19 813.7,1600.01 816.3,1600.82 818.9,1601.60 821.5,1602.36 824.0,1603.11 826.6,1603.84 829.2,1604.56 831.7,1605.25 834.3,1605.94 836.9,1606.60 839.5,1607.25 842.0,1607.89 844.6,1608.51 847.2,1609.12 849.7,1609.72 852.3,1610.30 854.9,1610.87 857.5,1611.43 860.0,1611.97 862.6,1612.50 865.2,1613.02 867.7,1613.53 870.3,1614.03 872.9,1614.52 875.4,1614.99 878.0,1615.45 880.6,1615.91 883.2,1616.35 885.7,1616.78 888.3,1617.21 890.9,1617.62 893.4,1618.03 896.0,1618.42 898.6,1618.81 901.2,1619.19 903.7,1619.56 906.3,1619.92 908.9,1620.27 911.4,1620.61 914.0,1620.95 916.6,1621.28 919.1,1621.60 921.7,1621.92 924.3,1622.22 926.9,1622.53 929.4,1622.82 932.0,1623.11 934.6,1623.39 937.1,1623.66 939.7,1623.93 942.3,1624.20 944.9,1624.45 947.4,1624.70 950.0,1624.95 952.6,1625.19 955.1,1625.42 957.7,1625.65 960.3,1625.88 962.9,1626.10 965.4,1626.31 968.0,1626.52 970.6,1626.73 973.1,1626.93 975.7,1627.13 978.3,1627.32 980.8,1627.51 983.4,1627.69 986.0,1627.88 988.6,1628.05 991.1,1628.22 993.7,1628.39 996.3,1628.56 998.8,1628.72 1001.4,1628.88 1004.0,1629.04 1006.6,1629.19 1009.1,1629.34 1011.7,1629.48 1014.3,1629.62 1016.8,1629.76 1019.4,1629.90 1022.0,1630.03 1024.5,1630.17 1027.1,1630.29 1029.7,1630.42 1032.3,1630.54 1034.8,1630.66 1037.4,1630.78 1040.0,1630.90 1042.5,1631.01 1045.1,1631.12 1047.7,1631.23 1050.3,1631.34 1052.8,1631.44 1055.4,1631.54 1058.0,1631.64 1060.5,1631.74 1063.1,1631.84 1065.7,1631.93 1068.3,1632.03 1070.8,1632.12 1073.4,1632.21 1076.0,1632.29 1078.5,1632.38 1081.1,1632.46 1083.7,1632.54 1086.2,1632.62 1088.8,1632.70 1091.4,1632.78 1094.0,1632.86 1096.5,1632.93 1099.1,1633.00 1101.7,1633.08 1104.2,1633.15 1106.8,1633.22 1109.4,1633.28 1112.0,1633.35 1114.5,1633.41 1117.1,1633.48 1119.7,1633.54 1122.2,1633.60 1124.8,1633.66 1127.4,1633.72 1129.9,1633.78 1132.5,1633.84 1135.1,1633.89 1137.7,1633.95 1140.2,1634.00 1142.8,1634.05 1145.4,1634.11 1147.9,1634.16 1150.5,1634.21 1153.1,1634.26 1155.7,1634.30 1158.2,1634.35 1160.8,1634.40 1163.4,1634.44 1165.9,1634.49 1168.5,1634.53 1171.1,1634.58 1173.7,1634.62 1176.2,1634.66 1178.8,1634.70 1181.4,1634.74 1183.9,1634.78 1186.5,1634.82 1189.1,1634.86 1191.6,1634.90 1194.2,1634.93 1196.8,1634.97 1199.4,1635.00 1201.9,1635.04 1204.5,1635.07 1207.1,1635.11 1209.6,1635.14 1212.2,1635.17 1214.8,1635.20 1217.4,1635.24 1219.9,1635.27 1222.5,1635.30 1225.1,1635.33 1227.6,1635.36 1230.2,1635.39 1232.8,1635.41 1235.4,1635.44 1237.9,1635.47 1240.5,1635.50 1243.1,1635.52 1245.6,1635.55 1248.2,1635.58 1250.8,1635.60 1253.3,1635.63 1255.9,1635.65 1258.5,1635.67 1261.1,1635.70 1263.6,1635.72 1266.2,1635.74 1268.8,1635.77 1271.3,1635.79 1273.9,1635.81 1276.5,1635.83 1279.1,1635.85 1281.6,1635.87 1284.2,1635.89 1286.8,1635.91 1289.3,1635.93 1291.9,1635.95 1294.5,1635.97 1297.0,1635.99 1299.6,1636.01 1302.2,1636.03 1304.8,1636.05 1307.3,1636.06 1309.9,1636.08 1312.5,1636.10 1315.0,1636.12 1317.6,1636.13 1320.2,1636.15 1322.8,1636.17 1325.3,1636.18 1327.9,1636.20 1330.5,1636.21 1333.0,1636.23 1335.6,1636.24 1338.2,1636.26 1340.8,1636.27 1343.3,1636.29 1345.9,1636.30 1348.5,1636.31 1351.0,1636.33 1353.6,1636.34 1356.2,1636.35 1358.7,1636.37 1361.3,1636.38 1363.9,1636.39 1366.5,1636.41 1369.0,1636.42 1371.6,1636.43 1374.2,1636.44 1376.7,1636.45 1379.3,1636.46 1381.9,1636.48 1384.5,1636.49 1387.0,1636.50 1389.6,1636.51 1392.2,1636.52 1394.7,1636.53 1397.3,1636.54 1399.9,1636.55 1402.4,1636.56 1405.0,1636.57 1407.6,1636.58 1410.2,1636.59 1412.7,1636.60 1415.3,1636.61 1417.9,1636.62 1420.4,1636.63 1423.0,1636.64 1425.6,1636.65 1428.2,1636.66 1430.7,1636.66 1433.3,1636.67 1435.9,1636.68 1438.4,1636.69 1441.0,1636.70 1443.6,1636.71 1446.2,1636.71 1448.7,1636.72 1451.3,1636.73 1453.9,1636.74 1456.4,1636.74 1459.0,1636.75 1461.6,1636.76 1464.1,1636.77 1466.7,1636.77 1469.3,1636.78 1471.9,1636.79 1474.4,1636.80 1477.0,1636.80 1479.6,1636.81 1482.1,1636.82 1484.7,1636.82 1487.3,1636.83 1489.9,1636.83 1492.4,1636.84 1495.0,1636.85 1497.6,1636.85 1500.1,1636.86 1502.7,1636.86 1505.3,1636.87 1507.8,1636.88 1510.4,1636.88 1513.0,1636.89 1515.6,1636.89 1518.1,1636.90 1520.7,1636.90 1523.3,1636.91 1525.8,1636.92 1528.4,1636.92 1531.0,1636.93 1533.6,1636.93 1536.1,1636.94 1538.7,1636.94 1541.3,1636.95 1543.8,1636.95 1546.4,1636.95 1549.0,1636.96 1551.6,1636.96 1554.1,1636.97 1556.7,1636.97 1559.3,1636.98 1561.8,1636.98 1564.4,1636.99 1567.0,1636.99 1569.5,1637.00 1572.1,1637.00 1574.7,1637.00 1577.3,1637.01 1579.8,1637.01 1582.4,1637.02 1585.0,1637.02 1587.5,1637.02 1590.1,1637.03 1592.7,1637.03 1595.3,1637.03 1597.8,1637.04 1600.4,1637.04 1603.0,1637.05 1605.5,1637.05 1608.1,1637.05 1610.7,1637.06 1613.3,1637.06 1615.8,1637.06 1618.4,1637.07 1621.0,1637.07 1623.5,1637.07 1626.1,1637.08 1628.7,1637.08 1631.2,1637.08 1633.8,1637.09 1636.4,1637.09 1639.0,1637.09 1641.5,1637.10 1644.1,1637.10 1646.7,1637.10 1649.2,1637.10 1651.8,1637.11 1654.4,1637.11 1657.0,1637.11 1659.5,1637.12 1662.1,1637.12 1664.7,1637.12 1667.2,1637.12 1669.8,1637.13 1672.4,1637.13 1674.9,1637.13 1677.5,1637.13 1680.1,1637.14 1682.7,1637.14 1685.2,1637.14 1687.8,1637.14 1690.4,1637.15 1692.9,1637.15 1695.5,1637.15 1698.1,1637.15 1700.7,1637.16 1703.2,1637.16 1705.8,1637.16 1708.4,1637.16 1710.9,1637.16 1713.5,1637.17 1716.1,1637.17 1718.7,1637.17 1721.2,1637.17 1723.8,1637.18 1726.4,1637.18 1728.9,1637.18 1731.5,1637.18 1734.1,1637.18 1736.6,1637.19 1739.2,1637.19 1741.8,1637.19 1744.4,1637.19 1746.9,1637.19 1749.5,1637.20 1752.1,1637.20 1754.6,1637.20 1757.2,1637.20 1759.8,1637.20 1762.4,1637.20 1764.9,1637.21 1767.5,1637.21 1770.1,1637.21 1772.6,1637.21 1775.2,1637.21 1777.8,1637.21 1780.3,1637.22 1782.9,1637.22 1785.5,1637.22 1788.1,1637.22 1790.6,1637.22 1793.2,1637.22 1795.8,1637.23 1798.3,1637.23 1800.9,1637.23 1803.5,1637.23 1806.1,1637.23 1808.6,1637.23 1811.2,1637.23 1813.8,1637.24 1816.3,1637.24 1818.9,1637.24 1821.5,1637.24 1824.1,1637.24 1826.6,1637.24 1829.2,1637.24 1831.8,1637.25 1834.3,1637.25 1836.9,1637.25 1839.5,1637.25 1842.0,1637.25 1844.6,1637.25 1847.2,1637.25 1849.8,1637.25 1852.3,1637.26 1854.9,1637.26 1857.5,1637.26 1860.0,1637.26 1862.6,1637.26 1865.2,1637.26 1867.8,1637.26 1870.3,1637.26 1872.9,1637.27 1875.5,1637.27 1878.0,1637.27 1880.6,1637.27 1883.2,1637.27 1885.7,1637.27 1888.3,1637.27 1890.9,1637.27 1893.5,1637.27 1896.0,1637.28 1898.6,1637.28 1901.2,1637.28 1903.7,1637.28 1906.3,1637.28 1908.9,1637.28 1911.5,1637.28 1914.0,1637.28 1916.6,1637.28 1919.2,1637.28 1921.7,1637.28 1924.3,1637.29 1926.9,1637.29 1929.5,1637.29 1932.0,1637.29 1934.6,1637.29 1937.2,1637.29 1939.7,1637.29 1942.3,1637.29 1944.9,1637.29 1947.4,1637.29 1950.0,1637.29 1952.6,1637.30 1955.2,1637.30 1957.7,1637.30 1960.3,1637.30 1962.9,1637.30 1965.4,1637.30 1968.0,1637.30 1970.6,1637.30 1973.2,1637.30 1975.7,1637.30 1978.3,1637.30 1980.9,1637.30 1983.4,1637.31 1986.0,1637.31 1988.6,1637.31 1991.2,1637.31 1993.7,1637.31 1996.3,1637.31 1998.9,1637.31 2001.4,1637.31 2004.0,1637.31 2006.6,1637.31 2009.1,1637.31 2011.7,1637.31 2014.3,1637.31 2016.9,1637.31 2019.4,1637.31 2022.0,1637.32 2024.6,1637.32 2027.1,1637.32 2029.7,1637.32 2032.3,1637.32 2034.9,1637.32 2037.4,1637.32 2040.0,1637.32 2042.6,1637.32 2045.1,1637.32 2047.7,1637.32 2050.3,1637.32 2052.8,1637.32 2055.4,1637.32 2058.0,1637.32 2060.6,1637.32 2063.1,1637.33 2065.7,1637.33 2068.3,1637.33 2070.8,1637.33 2073.4,1637.33 2076.0,1637.33 2078.6,1637.33 2081.1,1637.33 2083.7,1637.33 2086.3,1637.33 2088.8,1637.33 2091.4,1637.33 2094.0,1637.33 2096.6,1637.33 2099.1,1637.33 2101.7,1637.33 2104.3,1637.33 2106.8,1637.33 2109.4,1637.33 2112.0,1637.33 2114.5,1637.34 2117.1,1637.34 2119.7,1637.34 2122.3,1637.34 2124.8,1637.34 2127.4,1637.34 2130.0,1637.34 2132.5,1637.34 2135.1,1637.34 2137.7,1637.34 2140.3,1637.34 2142.8,1637.34 2145.4,1637.34 2148.0,1637.34 2150.5,1637.34 2153.1,1637.34 2155.7,1637.34 2158.2,1637.34 2160.8,1637.34 2163.4,1637.34 2166.0,1637.34 2168.5,1637.34 2171.1,1637.34 2173.7,1637.35 2176.2,1637.35 2178.8,1637.35 2181.4,1637.35 2184.0,1637.35 2186.5,1637.35 2189.1,1637.35 2191.7,1637.35 2194.2,1637.35 2196.8,1637.35 2199.4,1637.35 2202.0,1637.35 2204.5,1637.35 2207.1,1637.35 2209.7,1637.35 2212.2,1637.35 2214.8,1637.35 2217.4,1637.35 2219.9,1637.35 2222.5,1637.35 2225.1,1637.35 2227.7,1637.35 2230.2,1637.35 2232.8,1637.35 2235.4,1637.35 2237.9,1637.35 2240.5,1637.35 2243.1,1637.35 2245.7,1637.35 2248.2,1637.36 2250.8,1637.36 2253.4,1637.36 2255.9,1637.36 2258.5,1637.36 2261.1,1637.36 2263.7,1637.36 2266.2,1637.36 2268.8,1637.36 2271.4,1637.36 2273.9,1637.36 2276.5,1637.36 2279.1,1637.36 2281.6,1637.36 2284.2,1637.36 2286.8,1637.36 2289.4,1637.36 2291.9,1637.36 2294.5,1637.36 2297.1,1637.36 2299.6,1637.36 2302.2,1637.36 2304.8,1637.36 2307.4,1637.36 2309.9,1637.36 2312.5,1637.36 2315.1,1637.36 2317.6,1637.36 2320.2,1637.36 2322.8,1637.36 2325.3,1637.36 2327.9,1637.36 2330.5,1637.36 2333.1,1637.36 2335.6,1637.36 2338.2,1637.36 2340.8,1637.36 2343.3,1637.36 2345.9,1637.36 2348.5,1637.37 2351.1,1637.37 2353.6,1637.37 2356.2,1637.37 2358.8,1637.37 2361.3,1637.37 2363.9,1637.37 2366.5,1637.37 2369.1,1637.37 2371.6,1637.37 2374.2,1637.37 2376.8,1637.37 2379.3,1637.37 2381.9,1637.37 2384.5,1637.37 2387.0,1637.37 2389.6,1637.37 2392.2,1637.37 2394.8,1637.37 2397.3,1637.37 2399.9,1637.37" fill="none" stroke="#D95319" stroke-width="5.3" stroke-linejoin="round"/>
<text transform="translate(341.90,1723.80) scale(1,1.015)" font-size="61.5" fill="#262626" text-anchor="middle" stroke="#fff" stroke-width="1.1">0</text>
<text transform="translate(598.98,1723.80) scale(1,1.015)" font-size="61.5" fill="#262626" text-anchor="middle" stroke="#fff" stroke-width="1.1">0.1</text>
<text transform="translate(856.05,1723.80) scale(1,1.015)" font-size="61.5" fill="#262626" text-anchor="middle" stroke="#fff" stroke-width="1.1">0.2</text>
<text transform="translate(1113.12,1723.80) scale(1,1.015)" font-size="61.5" fill="#262626" text-anchor="middle" stroke="#fff" stroke-width="1.1">0.3</text>
<text transform="translate(1370.20,1723.80) scale(1,1.015)" font-size="61.5" fill="#262626" text-anchor="middle" stroke="#fff" stroke-width="1.1">0.4</text>
<text transform="translate(1627.27,1723.80) scale(1,1.015)" font-size="61.5" fill="#262626" text-anchor="middle" stroke="#fff" stroke-width="1.1">0.5</text>
<text transform="translate(1884.35,1723.80) scale(1,1.015)" font-size="61.5" fill="#262626" text-anchor="middle" stroke="#fff" stroke-width="1.1">0.6</text>
<text transform="translate(2141.43,1723.80) scale(1,1.015)" font-size="61.5" fill="#262626" text-anchor="middle" stroke="#fff" stroke-width="1.1">0.7</text>
<text transform="translate(2398.50,1723.80) scale(1,1.015)" font-size="61.5" fill="#262626" text-anchor="middle" stroke="#fff" stroke-width="1.1">0.8</text>
<text transform="translate(315.30,1660.40) scale(1,1.015)" font-size="61.5" fill="#262626" text-anchor="end" stroke="#fff" stroke-width="1.1">0</text>
<text transform="translate(315.30,1488.23) scale(1,1.015)" font-size="61.5" fill="#262626" text-anchor="end" stroke="#fff" stroke-width="1.1">5</text>
<text transform="translate(315.30,1316.06) scale(1,1.015)" font-size="61.5" fill="#262626" text-anchor="end" stroke="#fff" stroke-width="1.1">10</text>
<text transform="translate(1370.60,1243.81) scale(1,1.04)" font-size="68" font-weight="bold" fill="#000" text-anchor="middle">T<tspan font-size="47.5" dy="31">p</tspan><tspan dy="-31" dx="2.5"> = 8 s, H</tspan><tspan font-size="47.5" dy="31">s</tspan><tspan dy="-31" dx="2.5"> = 2.56 m</tspan></text>
<text transform="translate(115.60,1463.73) rotate(-90) scale(1,1.03)" font-size="67.8" fill="#262626" text-anchor="middle" stroke="#fff" stroke-width="1.1">Spec Density</text>
<text transform="translate(213.60,1463.73) rotate(-90) scale(1,1.03)" font-size="67.8" fill="#262626" text-anchor="middle" stroke="#fff" stroke-width="1.1">(m<tspan font-size="47.5" dy="-31">2</tspan><tspan dy="31">/Hz)</tspan></text>
<path d="M343.3,1873.35H2399.9V2218.5H343.3ZM343.30,2218.5v-21M343.30,1873.35v21M600.38,2218.5v-21M600.38,1873.35v21M857.45,2218.5v-21M857.45,1873.35v21M1114.53,2218.5v-21M1114.53,1873.35v21M1371.60,2218.5v-21M1371.60,1873.35v21M1628.67,2218.5v-21M1628.67,1873.35v21M1885.75,2218.5v-21M1885.75,1873.35v21M2142.83,2218.5v-21M2142.83,1873.35v21M2399.90,2218.5v-21M2399.90,1873.35v21M343.3,2218.50h21M2399.9,2218.50h-21M343.3,2045.92h21M2399.9,2045.92h-21M343.3,1873.35h21M2399.9,1873.35h-21" fill="none" stroke="#3a3a3a" stroke-width="3.0" stroke-linecap="square"/>
<polyline points="369.0,2218.50 371.6,2218.50 374.1,2218.50 376.7,2218.50 379.3,2218.50 381.9,2218.50 384.4,2218.50 387.0,2218.50 389.6,2218.50 392.1,2218.50 394.7,2218.50 397.3,2218.50 399.9,2218.50 402.4,2218.50 405.0,2218.50 407.6,2218.50 410.1,2218.50 412.7,2218.50 415.3,2218.50 417.9,2218.50 420.4,2218.50 423.0,2218.50 425.6,2218.50 428.1,2218.50 430.7,2218.50 433.3,2218.50 435.8,2218.50 438.4,2218.50 441.0,2218.50 443.6,2218.50 446.1,2218.50 448.7,2218.50 451.3,2218.50 453.8,2218.50 456.4,2218.50 459.0,2218.50 461.6,2218.49 464.1,2218.47 466.7,2218.42 469.3,2218.32 471.8,2218.14 474.4,2217.82 477.0,2217.31 479.5,2216.52 482.1,2215.37 484.7,2213.78 487.3,2211.68 489.8,2209.00 492.4,2205.72 495.0,2201.82 497.5,2197.31 500.1,2192.23 502.7,2186.64 505.3,2180.62 507.8,2174.28 510.4,2167.71 513.0,2161.02 515.5,2154.32 518.1,2147.70 520.7,2141.28 523.3,2135.11 525.8,2129.28 528.4,2123.85 531.0,2118.85 533.5,2114.33 536.1,2110.29 538.7,2106.76 541.2,2103.74 543.8,2101.22 546.4,2099.18 549.0,2097.62 551.5,2096.50 554.1,2095.80 556.7,2095.49 559.2,2095.55 561.8,2095.94 564.4,2096.63 567.0,2097.61 569.5,2098.82 572.1,2100.26 574.7,2101.89 577.2,2103.68 579.8,2105.63 582.4,2107.69 585.0,2109.85 587.5,2112.10 590.1,2114.42 592.7,2116.78 595.2,2119.19 597.8,2121.61 600.4,2124.06 602.9,2126.50 605.5,2128.94 608.1,2131.37 610.7,2133.77 613.2,2136.15 615.8,2138.50 618.4,2140.82 620.9,2143.09 623.5,2145.32 626.1,2147.51 628.7,2149.65 631.2,2151.74 633.8,2153.78 636.4,2155.77 638.9,2157.71 641.5,2159.60 644.1,2161.44 646.6,2163.22 649.2,2164.96 651.8,2166.64 654.4,2168.28 656.9,2169.86 659.5,2171.39 662.1,2172.88 664.6,2174.32 667.2,2175.72 669.8,2177.07 672.4,2178.38 674.9,2179.64 677.5,2180.86 680.1,2182.05 682.6,2183.19 685.2,2184.30 687.8,2185.37 690.4,2186.40 692.9,2187.40 695.5,2188.37 698.1,2189.30 700.6,2190.20 703.2,2191.07 705.8,2191.91 708.3,2192.73 710.9,2193.51 713.5,2194.27 716.1,2195.01 718.6,2195.72 721.2,2196.40 723.8,2197.07 726.3,2197.71 728.9,2198.33 731.5,2198.92 734.1,2199.50 736.6,2200.06 739.2,2200.60 741.8,2201.12 744.3,2201.63 746.9,2202.12 749.5,2202.59 752.0,2203.05 754.6,2203.49 757.2,2203.92 759.8,2204.33 762.3,2204.73 764.9,2205.12 767.5,2205.49 770.0,2205.85 772.6,2206.20 775.2,2206.54 777.8,2206.87 780.3,2207.19 782.9,2207.50 785.5,2207.80 788.0,2208.09 790.6,2208.37 793.2,2208.64 795.8,2208.90 798.3,2209.16 800.9,2209.41 803.5,2209.64 806.0,2209.88 808.6,2210.10 811.2,2210.32 813.7,2210.53 816.3,2210.74 818.9,2210.94 821.5,2211.13 824.0,2211.32 826.6,2211.50 829.2,2211.67 831.7,2211.85 834.3,2212.01 836.9,2212.17 839.5,2212.33 842.0,2212.48 844.6,2212.63 847.2,2212.77 849.7,2212.91 852.3,2213.05 854.9,2213.18 857.5,2213.31 860.0,2213.43 862.6,2213.55 865.2,2213.67 867.7,2213.78 870.3,2213.89 872.9,2214.00 875.4,2214.11 878.0,2214.21 880.6,2214.31 883.2,2214.40 885.7,2214.50 888.3,2214.59 890.9,2214.68 893.4,2214.76 896.0,2214.85 898.6,2214.93 901.2,2215.01 903.7,2215.09 906.3,2215.16 908.9,2215.24 911.4,2215.31 914.0,2215.38 916.6,2215.45 919.1,2215.51 921.7,2215.58 924.3,2215.64 926.9,2215.70 929.4,2215.76 932.0,2215.82 934.6,2215.88 937.1,2215.93 939.7,2215.99 942.3,2216.04 944.9,2216.09 947.4,2216.14 950.0,2216.19 952.6,2216.24 955.1,2216.28 957.7,2216.33 960.3,2216.37 962.9,2216.41 965.4,2216.46 968.0,2216.50 970.6,2216.54 973.1,2216.58 975.7,2216.62 978.3,2216.65 980.8,2216.69 983.4,2216.73 986.0,2216.76 988.6,2216.79 991.1,2216.83 993.7,2216.86 996.3,2216.89 998.8,2216.92 1001.4,2216.95 1004.0,2216.98 1006.6,2217.01 1009.1,2217.04 1011.7,2217.07 1014.3,2217.09 1016.8,2217.12 1019.4,2217.15 1022.0,2217.17 1024.5,2217.20 1027.1,2217.22 1029.7,2217.24 1032.3,2217.27 1034.8,2217.29 1037.4,2217.31 1040.0,2217.33 1042.5,2217.35 1045.1,2217.37 1047.7,2217.39 1050.3,2217.41 1052.8,2217.43 1055.4,2217.45 1058.0,2217.47 1060.5,2217.49 1063.1,2217.51 1065.7,2217.52 1068.3,2217.54 1070.8,2217.56 1073.4,2217.57 1076.0,2217.59 1078.5,2217.61 1081.1,2217.62 1083.7,2217.64 1086.2,2217.65 1088.8,2217.67 1091.4,2217.68 1094.0,2217.69 1096.5,2217.71 1099.1,2217.72 1101.7,2217.73 1104.2,2217.75 1106.8,2217.76 1109.4,2217.77 1112.0,2217.78 1114.5,2217.80 1117.1,2217.81 1119.7,2217.82 1122.2,2217.83 1124.8,2217.84 1127.4,2217.85 1129.9,2217.86 1132.5,2217.87 1135.1,2217.88 1137.7,2217.89 1140.2,2217.90 1142.8,2217.91 1145.4,2217.92 1147.9,2217.93 1150.5,2217.94 1153.1,2217.95 1155.7,2217.96 1158.2,2217.96 1160.8,2217.97 1163.4,2217.98 1165.9,2217.99 1168.5,2218.00 1171.1,2218.00 1173.7,2218.01 1176.2,2218.02 1178.8,2218.03 1181.4,2218.03 1183.9,2218.04 1186.5,2218.05 1189.1,2218.05 1191.6,2218.06 1194.2,2218.07 1196.8,2218.07 1199.4,2218.08 1201.9,2218.09 1204.5,2218.09 1207.1,2218.10 1209.6,2218.10 1212.2,2218.11 1214.8,2218.12 1217.4,2218.12 1219.9,2218.13 1222.5,2218.13 1225.1,2218.14 1227.6,2218.14 1230.2,2218.15 1232.8,2218.15 1235.4,2218.16 1237.9,2218.16 1240.5,2218.17 1243.1,2218.17 1245.6,2218.18 1248.2,2218.18 1250.8,2218.19 1253.3,2218.19 1255.9,2218.20 1258.5,2218.20 1261.1,2218.20 1263.6,2218.21 1266.2,2218.21 1268.8,2218.22 1271.3,2218.22 1273.9,2218.22 1276.5,2218.23 1279.1,2218.23 1281.6,2218.23 1284.2,2218.24 1286.8,2218.24 1289.3,2218.25 1291.9,2218.25 1294.5,2218.25 1297.0,2218.26 1299.6,2218.26 1302.2,2218.26 1304.8,2218.26 1307.3,2218.27 1309.9,2218.27 1312.5,2218.27 1315.0,2218.28 1317.6,2218.28 1320.2,2218.28 1322.8,2218.29 1325.3,2218.29 1327.9,2218.29 1330.5,2218.29 1333.0,2218.30 1335.6,2218.30 1338.2,2218.30 1340.8,2218.30 1343.3,2218.31 1345.9,2218.31 1348.5,2218.31 1351.0,2218.31 1353.6,2218.32 1356.2,2218.32 1358.7,2218.32 1361.3,2218.32 1363.9,2218.33 1366.5,2218.33 1369.0,2218.33 1371.6,2218.33 1374.2,2218.33 1376.7,2218.34 1379.3,2218.34 1381.9,2218.34 1384.5,2218.34 1387.0,2218.34 1389.6,2218.35 1392.2,2218.35 1394.7,2218.35 1397.3,2218.35 1399.9,2218.35 1402.4,2218.35 1405.0,2218.36 1407.6,2218.36 1410.2,2218.36 1412.7,2218.36 1415.3,2218.36 1417.9,2218.37 1420.4,2218.37 1423.0,2218.37 1425.6,2218.37 1428.2,2218.37 1430.7,2218.37 1433.3,2218.37 1435.9,2218.38 1438.4,2218.38 1441.0,2218.38 1443.6,2218.38 1446.2,2218.38 1448.7,2218.38 1451.3,2218.38 1453.9,2218.39 1456.4,2218.39 1459.0,2218.39 1461.6,2218.39 1464.1,2218.39 1466.7,2218.39 1469.3,2218.39 1471.9,2218.39 1474.4,2218.40 1477.0,2218.40 1479.6,2218.40 1482.1,2218.40 1484.7,2218.40 1487.3,2218.40 1489.9,2218.40 1492.4,2218.40 1495.0,2218.40 1497.6,2218.41 1500.1,2218.41 1502.7,2218.41 1505.3,2218.41 1507.8,2218.41 1510.4,2218.41 1513.0,2218.41 1515.6,2218.41 1518.1,2218.41 1520.7,2218.41 1523.3,2218.42 1525.8,2218.42 1528.4,2218.42 1531.0,2218.42 1533.6,2218.42 1536.1,2218.42 1538.7,2218.42 1541.3,2218.42 1543.8,2218.42 1546.4,2218.42 1549.0,2218.42 1551.6,2218.42 1554.1,2218.43 1556.7,2218.43 1559.3,2218.43 1561.8,2218.43 1564.4,2218.43 1567.0,2218.43 1569.5,2218.43 1572.1,2218.43 1574.7,2218.43 1577.3,2218.43 1579.8,2218.43 1582.4,2218.43 1585.0,2218.43 1587.5,2218.44 1590.1,2218.44 1592.7,2218.44 1595.3,2218.44 1597.8,2218.44 1600.4,2218.44 1603.0,2218.44 1605.5,2218.44 1608.1,2218.44 1610.7,2218.44 1613.3,2218.44 1615.8,2218.44 1618.4,2218.44 1621.0,2218.44 1623.5,2218.44 1626.1,2218.44 1628.7,2218.44 1631.2,2218.45 1633.8,2218.45 1636.4,2218.45 1639.0,2218.45 1641.5,2218.45 1644.1,2218.45 1646.7,2218.45 1649.2,2218.45 1651.8,2218.45 1654.4,2218.45 1657.0,2218.45 1659.5,2218.45 1662.1,2218.45 1664.7,2218.45 1667.2,2218.45 1669.8,2218.45 1672.4,2218.45 1674.9,2218.45 1677.5,2218.45 1680.1,2218.45 1682.7,2218.46 1685.2,2218.46 1687.8,2218.46 1690.4,2218.46 1692.9,2218.46 1695.5,2218.46 1698.1,2218.46 1700.7,2218.46 1703.2,2218.46 1705.8,2218.46 1708.4,2218.46 1710.9,2218.46 1713.5,2218.46 1716.1,2218.46 1718.7,2218.46 1721.2,2218.46 1723.8,2218.46 1726.4,2218.46 1728.9,2218.46 1731.5,2218.46 1734.1,2218.46 1736.6,2218.46 1739.2,2218.46 1741.8,2218.46 1744.4,2218.46 1746.9,2218.46 1749.5,2218.46 1752.1,2218.47 1754.6,2218.47 1757.2,2218.47 1759.8,2218.47 1762.4,2218.47 1764.9,2218.47 1767.5,2218.47 1770.1,2218.47 1772.6,2218.47 1775.2,2218.47 1777.8,2218.47 1780.3,2218.47 1782.9,2218.47 1785.5,2218.47 1788.1,2218.47 1790.6,2218.47 1793.2,2218.47 1795.8,2218.47 1798.3,2218.47 1800.9,2218.47 1803.5,2218.47 1806.1,2218.47 1808.6,2218.47 1811.2,2218.47 1813.8,2218.47 1816.3,2218.47 1818.9,2218.47 1821.5,2218.47 1824.1,2218.47 1826.6,2218.47 1829.2,2218.47 1831.8,2218.47 1834.3,2218.47 1836.9,2218.47 1839.5,2218.47 1842.0,2218.47 1844.6,2218.47 1847.2,2218.47 1849.8,2218.48 1852.3,2218.48 1854.9,2218.48 1857.5,2218.48 1860.0,2218.48 1862.6,2218.48 1865.2,2218.48 1867.8,2218.48 1870.3,2218.48 1872.9,2218.48 1875.5,2218.48 1878.0,2218.48 1880.6,2218.48 1883.2,2218.48 1885.7,2218.48 1888.3,2218.48 1890.9,2218.48 1893.5,2218.48 1896.0,2218.48 1898.6,2218.48 1901.2,2218.48 1903.7,2218.48 1906.3,2218.48 1908.9,2218.48 1911.5,2218.48 1914.0,2218.48 1916.6,2218.48 1919.2,2218.48 1921.7,2218.48 1924.3,2218.48 1926.9,2218.48 1929.5,2218.48 1932.0,2218.48 1934.6,2218.48 1937.2,2218.48 1939.7,2218.48 1942.3,2218.48 1944.9,2218.48 1947.4,2218.48 1950.0,2218.48 1952.6,2218.48 1955.2,2218.48 1957.7,2218.48 1960.3,2218.48 1962.9,2218.48 1965.4,2218.48 1968.0,2218.48 1970.6,2218.48 1973.2,2218.48 1975.7,2218.48 1978.3,2218.48 1980.9,2218.48 1983.4,2218.48 1986.0,2218.48 1988.6,2218.48 1991.2,2218.48 1993.7,2218.48 1996.3,2218.48 1998.9,2218.48 2001.4,2218.48 2004.0,2218.48 2006.6,2218.48 2009.1,2218.48 2011.7,2218.49 2014.3,2218.49 2016.9,2218.49 2019.4,2218.49 2022.0,2218.49 2024.6,2218.49 2027.1,2218.49 2029.7,2218.49 2032.3,2218.49 2034.9,2218.49 2037.4,2218.49 2040.0,2218.49 2042.6,2218.49 2045.1,2218.49 2047.7,2218.49 2050.3,2218.49 2052.8,2218.49 2055.4,2218.49 2058.0,2218.49 2060.6,2218.49 2063.1,2218.49 2065.7,2218.49 2068.3,2218.49 2070.8,2218.49 2073.4,2218.49 2076.0,2218.49 2078.6,2218.49 2081.1,2218.49 2083.7,2218.49 2086.3,2218.49 2088.8,2218.49 2091.4,2218.49 2094.0,2218.49 2096.6,2218.49 2099.1,2218.49 2101.7,2218.49 2104.3,2218.49 2106.8,2218.49 2109.4,2218.49 2112.0,2218.49 2114.5,2218.49 2117.1,2218.49 2119.7,2218.49 2122.3,2218.49 2124.8,2218.49 2127.4,2218.49 2130.0,2218.49 2132.5,2218.49 2135.1,2218.49 2137.7,2218.49 2140.3,2218.49 2142.8,2218.49 2145.4,2218.49 2148.0,2218.49 2150.5,2218.49 2153.1,2218.49 2155.7,2218.49 2158.2,2218.49 2160.8,2218.49 2163.4,2218.49 2166.0,2218.49 2168.5,2218.49 2171.1,2218.49 2173.7,2218.49 2176.2,2218.49 2178.8,2218.49 2181.4,2218.49 2184.0,2218.49 2186.5,2218.49 2189.1,2218.49 2191.7,2218.49 2194.2,2218.49 2196.8,2218.49 2199.4,2218.49 2202.0,2218.49 2204.5,2218.49 2207.1,2218.49 2209.7,2218.49 2212.2,2218.49 2214.8,2218.49 2217.4,2218.49 2219.9,2218.49 2222.5,2218.49 2225.1,2218.49 2227.7,2218.49 2230.2,2218.49 2232.8,2218.49 2235.4,2218.49 2237.9,2218.49 2240.5,2218.49 2243.1,2218.49 2245.7,2218.49 2248.2,2218.49 2250.8,2218.49 2253.4,2218.49 2255.9,2218.49 2258.5,2218.49 2261.1,2218.49 2263.7,2218.49 2266.2,2218.49 2268.8,2218.49 2271.4,2218.49 2273.9,2218.49 2276.5,2218.49 2279.1,2218.49 2281.6,2218.49 2284.2,2218.49 2286.8,2218.49 2289.4,2218.49 2291.9,2218.49 2294.5,2218.49 2297.1,2218.49 2299.6,2218.49 2302.2,2218.49 2304.8,2218.49 2307.4,2218.49 2309.9,2218.49 2312.5,2218.49 2315.1,2218.49 2317.6,2218.49 2320.2,2218.49 2322.8,2218.49 2325.3,2218.49 2327.9,2218.49 2330.5,2218.49 2333.1,2218.49 2335.6,2218.49 2338.2,2218.49 2340.8,2218.49 2343.3,2218.49 2345.9,2218.49 2348.5,2218.49 2351.1,2218.49 2353.6,2218.49 2356.2,2218.49 2358.8,2218.49 2361.3,2218.49 2363.9,2218.49 2366.5,2218.49 2369.1,2218.49 2371.6,2218.49 2374.2,2218.49 2376.8,2218.49 2379.3,2218.49 2381.9,2218.49 2384.5,2218.49 2387.0,2218.49 2389.6,2218.49 2392.2,2218.49 2394.8,2218.49 2397.3,2218.49 2399.9,2218.49" fill="none" stroke="#0072BD" stroke-width="5.3" stroke-linejoin="round"/>
<polyline points="369.0,2218.50 371.6,2218.50 374.1,2218.50 376.7,2218.50 379.3,2218.50 381.9,2218.50 384.4,2218.50 387.0,2218.50 389.6,2218.50 392.1,2218.50 394.7,2218.50 397.3,2218.50 399.9,2218.50 402.4,2218.50 405.0,2218.50 407.6,2218.50 410.1,2218.50 412.7,2218.50 415.3,2218.50 417.9,2218.50 420.4,2218.50 423.0,2218.50 425.6,2218.50 428.1,2218.50 430.7,2218.50 433.3,2218.50 435.8,2218.50 438.4,2218.50 441.0,2218.50 443.6,2218.50 446.1,2218.50 448.7,2218.50 451.3,2218.50 453.8,2218.50 456.4,2218.50 459.0,2218.50 461.6,2218.49 464.1,2218.48 466.7,2218.45 469.3,2218.40 471.8,2218.29 474.4,2218.11 477.0,2217.80 479.5,2217.34 482.1,2216.67 484.7,2215.73 487.3,2214.49 489.8,2212.91 492.4,2210.96 495.0,2208.61 497.5,2205.85 500.1,2202.68 502.7,2199.09 505.3,2195.07 507.8,2190.61 510.4,2185.67 513.0,2180.21 515.5,2174.14 518.1,2167.37 520.7,2159.77 523.3,2151.19 525.8,2141.49 528.4,2130.50 531.0,2118.13 533.5,2104.29 536.1,2089.06 538.7,2072.62 541.2,2055.39 543.8,2038.00 546.4,2021.29 549.0,2006.29 551.5,1994.07 554.1,1985.60 556.7,1981.60 559.2,1982.04 561.8,1985.67 564.4,1992.15 567.0,2001.05 569.5,2011.86 572.1,2024.04 574.7,2037.02 577.2,2050.30 579.8,2063.45 582.4,2076.14 585.0,2088.11 587.5,2099.20 590.1,2109.34 592.7,2118.50 595.2,2126.70 597.8,2133.98 600.4,2140.41 602.9,2146.09 605.5,2151.07 608.1,2155.46 610.7,2159.31 613.2,2162.71 615.8,2165.72 618.4,2168.40 620.9,2170.79 623.5,2172.93 626.1,2174.88 628.7,2176.65 631.2,2178.28 633.8,2179.78 636.4,2181.18 638.9,2182.50 641.5,2183.74 644.1,2184.91 646.6,2186.03 649.2,2187.09 651.8,2188.12 654.4,2189.10 656.9,2190.04 659.5,2190.95 662.1,2191.83 664.6,2192.68 667.2,2193.50 669.8,2194.29 672.4,2195.06 674.9,2195.80 677.5,2196.51 680.1,2197.21 682.6,2197.87 685.2,2198.52 687.8,2199.15 690.4,2199.75 692.9,2200.33 695.5,2200.90 698.1,2201.44 700.6,2201.97 703.2,2202.48 705.8,2202.97 708.3,2203.45 710.9,2203.90 713.5,2204.35 716.1,2204.78 718.6,2205.19 721.2,2205.59 723.8,2205.98 726.3,2206.35 728.9,2206.71 731.5,2207.06 734.1,2207.40 736.6,2207.73 739.2,2208.04 741.8,2208.35 744.3,2208.64 746.9,2208.93 749.5,2209.21 752.0,2209.47 754.6,2209.73 757.2,2209.98 759.8,2210.22 762.3,2210.46 764.9,2210.68 767.5,2210.90 770.0,2211.11 772.6,2211.32 775.2,2211.52 777.8,2211.71 780.3,2211.89 782.9,2212.07 785.5,2212.25 788.0,2212.42 790.6,2212.58 793.2,2212.74 795.8,2212.89 798.3,2213.04 800.9,2213.19 803.5,2213.33 806.0,2213.46 808.6,2213.59 811.2,2213.72 813.7,2213.85 816.3,2213.97 818.9,2214.08 821.5,2214.19 824.0,2214.30 826.6,2214.41 829.2,2214.51 831.7,2214.61 834.3,2214.71 836.9,2214.80 839.5,2214.90 842.0,2214.98 844.6,2215.07 847.2,2215.15 849.7,2215.24 852.3,2215.31 854.9,2215.39 857.5,2215.47 860.0,2215.54 862.6,2215.61 865.2,2215.68 867.7,2215.74 870.3,2215.81 872.9,2215.87 875.4,2215.93 878.0,2215.99 880.6,2216.05 883.2,2216.11 885.7,2216.16 888.3,2216.22 890.9,2216.27 893.4,2216.32 896.0,2216.37 898.6,2216.41 901.2,2216.46 903.7,2216.51 906.3,2216.55 908.9,2216.59 911.4,2216.64 914.0,2216.68 916.6,2216.72 919.1,2216.75 921.7,2216.79 924.3,2216.83 926.9,2216.87 929.4,2216.90 932.0,2216.93 934.6,2216.97 937.1,2217.00 939.7,2217.03 942.3,2217.06 944.9,2217.09 947.4,2217.12 950.0,2217.15 952.6,2217.18 955.1,2217.20 957.7,2217.23 960.3,2217.26 962.9,2217.28 965.4,2217.31 968.0,2217.33 970.6,2217.35 973.1,2217.38 975.7,2217.40 978.3,2217.42 980.8,2217.44 983.4,2217.46 986.0,2217.48 988.6,2217.50 991.1,2217.52 993.7,2217.54 996.3,2217.56 998.8,2217.58 1001.4,2217.60 1004.0,2217.61 1006.6,2217.63 1009.1,2217.65 1011.7,2217.66 1014.3,2217.68 1016.8,2217.69 1019.4,2217.71 1022.0,2217.72 1024.5,2217.74 1027.1,2217.75 1029.7,2217.77 1032.3,2217.78 1034.8,2217.79 1037.4,2217.81 1040.0,2217.82 1042.5,2217.83 1045.1,2217.84 1047.7,2217.85 1050.3,2217.87 1052.8,2217.88 1055.4,2217.89 1058.0,2217.90 1060.5,2217.91 1063.1,2217.92 1065.7,2217.93 1068.3,2217.94 1070.8,2217.95 1073.4,2217.96 1076.0,2217.97 1078.5,2217.98 1081.1,2217.99 1083.7,2218.00 1086.2,2218.00 1088.8,2218.01 1091.4,2218.02 1094.0,2218.03 1096.5,2218.04 1099.1,2218.04 1101.7,2218.05 1104.2,2218.06 1106.8,2218.07 1109.4,2218.07 1112.0,2218.08 1114.5,2218.09 1117.1,2218.09 1119.7,2218.10 1122.2,2218.11 1124.8,2218.11 1127.4,2218.12 1129.9,2218.13 1132.5,2218.13 1135.1,2218.14 1137.7,2218.14 1140.2,2218.15 1142.8,2218.16 1145.4,2218.16 1147.9,2218.17 1150.5,2218.17 1153.1,2218.18 1155.7,2218.18 1158.2,2218.19 1160.8,2218.19 1163.4,2218.20 1165.9,2218.20 1168.5,2218.21 1171.1,2218.21 1173.7,2218.21 1176.2,2218.22 1178.8,2218.22 1181.4,2218.23 1183.9,2218.23 1186.5,2218.24 1189.1,2218.24 1191.6,2218.24 1194.2,2218.25 1196.8,2218.25 1199.4,2218.26 1201.9,2218.26 1204.5,2218.26 1207.1,2218.27 1209.6,2218.27 1212.2,2218.27 1214.8,2218.28 1217.4,2218.28 1219.9,2218.28 1222.5,2218.29 1225.1,2218.29 1227.6,2218.29 1230.2,2218.29 1232.8,2218.30 1235.4,2218.30 1237.9,2218.30 1240.5,2218.31 1243.1,2218.31 1245.6,2218.31 1248.2,2218.31 1250.8,2218.32 1253.3,2218.32 1255.9,2218.32 1258.5,2218.32 1261.1,2218.33 1263.6,2218.33 1266.2,2218.33 1268.8,2218.33 1271.3,2218.34 1273.9,2218.34 1276.5,2218.34 1279.1,2218.34 1281.6,2218.34 1284.2,2218.35 1286.8,2218.35 1289.3,2218.35 1291.9,2218.35 1294.5,2218.36 1297.0,2218.36 1299.6,2218.36 1302.2,2218.36 1304.8,2218.36 1307.3,2218.36 1309.9,2218.37 1312.5,2218.37 1315.0,2218.37 1317.6,2218.37 1320.2,2218.37 1322.8,2218.37 1325.3,2218.38 1327.9,2218.38 1330.5,2218.38 1333.0,2218.38 1335.6,2218.38 1338.2,2218.38 1340.8,2218.39 1343.3,2218.39 1345.9,2218.39 1348.5,2218.39 1351.0,2218.39 1353.6,2218.39 1356.2,2218.39 1358.7,2218.40 1361.3,2218.40 1363.9,2218.40 1366.5,2218.40 1369.0,2218.40 1371.6,2218.40 1374.2,2218.40 1376.7,2218.40 1379.3,2218.41 1381.9,2218.41 1384.5,2218.41 1387.0,2218.41 1389.6,2218.41 1392.2,2218.41 1394.7,2218.41 1397.3,2218.41 1399.9,2218.41 1402.4,2218.42 1405.0,2218.42 1407.6,2218.42 1410.2,2218.42 1412.7,2218.42 1415.3,2218.42 1417.9,2218.42 1420.4,2218.42 1423.0,2218.42 1425.6,2218.42 1428.2,2218.42 1430.7,2218.43 1433.3,2218.43 1435.9,2218.43 1438.4,2218.43 1441.0,2218.43 1443.6,2218.43 1446.2,2218.43 1448.7,2218.43 1451.3,2218.43 1453.9,2218.43 1456.4,2218.43 1459.0,2218.43 1461.6,2218.44 1464.1,2218.44 1466.7,2218.44 1469.3,2218.44 1471.9,2218.44 1474.4,2218.44 1477.0,2218.44 1479.6,2218.44 1482.1,2218.44 1484.7,2218.44 1487.3,2218.44 1489.9,2218.44 1492.4,2218.44 1495.0,2218.44 1497.6,2218.44 1500.1,2218.45 1502.7,2218.45 1505.3,2218.45 1507.8,2218.45 1510.4,2218.45 1513.0,2218.45 1515.6,2218.45 1518.1,2218.45 1520.7,2218.45 1523.3,2218.45 1525.8,2218.45 1528.4,2218.45 1531.0,2218.45 1533.6,2218.45 1536.1,2218.45 1538.7,2218.45 1541.3,2218.45 1543.8,2218.45 1546.4,2218.46 1549.0,2218.46 1551.6,2218.46 1554.1,2218.46 1556.7,2218.46 1559.3,2218.46 1561.8,2218.46 1564.4,2218.46 1567.0,2218.46 1569.5,2218.46 1572.1,2218.46 1574.7,2218.46 1577.3,2218.46 1579.8,2218.46 1582.4,2218.46 1585.0,2218.46 1587.5,2218.46 1590.1,2218.46 1592.7,2218.46 1595.3,2218.46 1597.8,2218.46 1600.4,2218.46 1603.0,2218.46 1605.5,2218.46 1608.1,2218.47 1610.7,2218.47 1613.3,2218.47 1615.8,2218.47 1618.4,2218.47 1621.0,2218.47 1623.5,2218.47 1626.1,2218.47 1628.7,2218.47 1631.2,2218.47 1633.8,2218.47 1636.4,2218.47 1639.0,2218.47 1641.5,2218.47 1644.1,2218.47 1646.7,2218.47 1649.2,2218.47 1651.8,2218.47 1654.4,2218.47 1657.0,2218.47 1659.5,2218.47 1662.1,2218.47 1664.7,2218.47 1667.2,2218.47 1669.8,2218.47 1672.4,2218.47 1674.9,2218.47 1677.5,2218.47 1680.1,2218.47 1682.7,2218.47 1685.2,2218.47 1687.8,2218.47 1690.4,2218.47 1692.9,2218.47 1695.5,2218.47 1698.1,2218.48 1700.7,2218.48 1703.2,2218.48 1705.8,2218.48 1708.4,2218.48 1710.9,2218.48 1713.5,2218.48 1716.1,2218.48 1718.7,2218.48 1721.2,2218.48 1723.8,2218.48 1726.4,2218.48 1728.9,2218.48 1731.5,2218.48 1734.1,2218.48 1736.6,2218.48 1739.2,2218.48 1741.8,2218.48 1744.4,2218.48 1746.9,2218.48 1749.5,2218.48 1752.1,2218.48 1754.6,2218.48 1757.2,2218.48 1759.8,2218.48 1762.4,2218.48 1764.9,2218.48 1767.5,2218.48 1770.1,2218.48 1772.6,2218.48 1775.2,2218.48 1777.8,2218.48 1780.3,2218.48 1782.9,2218.48 1785.5,2218.48 1788.1,2218.48 1790.6,2218.48 1793.2,2218.48 1795.8,2218.48 1798.3,2218.48 1800.9,2218.48 1803.5,2218.48 1806.1,2218.48 1808.6,2218.48 1811.2,2218.48 1813.8,2218.48 1816.3,2218.48 1818.9,2218.48 1821.5,2218.48 1824.1,2218.48 1826.6,2218.48 1829.2,2218.48 1831.8,2218.48 1834.3,2218.48 1836.9,2218.48 1839.5,2218.48 1842.0,2218.49 1844.6,2218.49 1847.2,2218.49 1849.8,2218.49 1852.3,2218.49 1854.9,2218.49 1857.5,2218.49 1860.0,2218.49 1862.6,2218.49 1865.2,2218.49 1867.8,2218.49 1870.3,2218.49 1872.9,2218.49 1875.5,2218.49 1878.0,2218.49 1880.6,2218.49 1883.2,2218.49 1885.7,2218.49 1888.3,2218.49 1890.9,2218.49 1893.5,2218.49 1896.0,2218.49 1898.6,2218.49 1901.2,2218.49 1903.7,2218.49 1906.3,2218.49 1908.9,2218.49 1911.5,2218.49 1914.0,2218.49 1916.6,2218.49 1919.2,2218.49 1921.7,2218.49 1924.3,2218.49 1926.9,2218.49 1929.5,2218.49 1932.0,2218.49 1934.6,2218.49 1937.2,2218.49 1939.7,2218.49 1942.3,2218.49 1944.9,2218.49 1947.4,2218.49 1950.0,2218.49 1952.6,2218.49 1955.2,2218.49 1957.7,2218.49 1960.3,2218.49 1962.9,2218.49 1965.4,2218.49 1968.0,2218.49 1970.6,2218.49 1973.2,2218.49 1975.7,2218.49 1978.3,2218.49 1980.9,2218.49 1983.4,2218.49 1986.0,2218.49 1988.6,2218.49 1991.2,2218.49 1993.7,2218.49 1996.3,2218.49 1998.9,2218.49 2001.4,2218.49 2004.0,2218.49 2006.6,2218.49 2009.1,2218.49 2011.7,2218.49 2014.3,2218.49 2016.9,2218.49 2019.4,2218.49 2022.0,2218.49 2024.6,2218.49 2027.1,2218.49 2029.7,2218.49 2032.3,2218.49 2034.9,2218.49 2037.4,2218.49 2040.0,2218.49 2042.6,2218.49 2045.1,2218.49 2047.7,2218.49 2050.3,2218.49 2052.8,2218.49 2055.4,2218.49 2058.0,2218.49 2060.6,2218.49 2063.1,2218.49 2065.7,2218.49 2068.3,2218.49 2070.8,2218.49 2073.4,2218.49 2076.0,2218.49 2078.6,2218.49 2081.1,2218.49 2083.7,2218.49 2086.3,2218.49 2088.8,2218.49 2091.4,2218.49 2094.0,2218.49 2096.6,2218.49 2099.1,2218.49 2101.7,2218.49 2104.3,2218.49 2106.8,2218.49 2109.4,2218.49 2112.0,2218.49 2114.5,2218.49 2117.1,2218.49 2119.7,2218.49 2122.3,2218.49 2124.8,2218.49 2127.4,2218.49 2130.0,2218.49 2132.5,2218.49 2135.1,2218.49 2137.7,2218.49 2140.3,2218.49 2142.8,2218.49 2145.4,2218.49 2148.0,2218.49 2150.5,2218.49 2153.1,2218.49 2155.7,2218.49 2158.2,2218.49 2160.8,2218.49 2163.4,2218.49 2166.0,2218.49 2168.5,2218.49 2171.1,2218.49 2173.7,2218.49 2176.2,2218.49 2178.8,2218.49 2181.4,2218.49 2184.0,2218.49 2186.5,2218.49 2189.1,2218.49 2191.7,2218.49 2194.2,2218.49 2196.8,2218.49 2199.4,2218.49 2202.0,2218.49 2204.5,2218.49 2207.1,2218.49 2209.7,2218.50 2212.2,2218.50 2214.8,2218.50 2217.4,2218.50 2219.9,2218.50 2222.5,2218.50 2225.1,2218.50 2227.7,2218.50 2230.2,2218.50 2232.8,2218.50 2235.4,2218.50 2237.9,2218.50 2240.5,2218.50 2243.1,2218.50 2245.7,2218.50 2248.2,2218.50 2250.8,2218.50 2253.4,2218.50 2255.9,2218.50 2258.5,2218.50 2261.1,2218.50 2263.7,2218.50 2266.2,2218.50 2268.8,2218.50 2271.4,2218.50 2273.9,2218.50 2276.5,2218.50 2279.1,2218.50 2281.6,2218.50 2284.2,2218.50 2286.8,2218.50 2289.4,2218.50 2291.9,2218.50 2294.5,2218.50 2297.1,2218.50 2299.6,2218.50 2302.2,2218.50 2304.8,2218.50 2307.4,2218.50 2309.9,2218.50 2312.5,2218.50 2315.1,2218.50 2317.6,2218.50 2320.2,2218.50 2322.8,2218.50 2325.3,2218.50 2327.9,2218.50 2330.5,2218.50 2333.1,2218.50 2335.6,2218.50 2338.2,2218.50 2340.8,2218.50 2343.3,2218.50 2345.9,2218.50 2348.5,2218.50 2351.1,2218.50 2353.6,2218.50 2356.2,2218.50 2358.8,2218.50 2361.3,2218.50 2363.9,2218.50 2366.5,2218.50 2369.1,2218.50 2371.6,2218.50 2374.2,2218.50 2376.8,2218.50 2379.3,2218.50 2381.9,2218.50 2384.5,2218.50 2387.0,2218.50 2389.6,2218.50 2392.2,2218.50 2394.8,2218.50 2397.3,2218.50 2399.9,2218.50" fill="none" stroke="#D95319" stroke-width="5.3" stroke-linejoin="round"/>
<text transform="translate(341.90,2304.90) scale(1,1.015)" font-size="61.5" fill="#262626" text-anchor="middle" stroke="#fff" stroke-width="1.1">0</text>
<text transform="translate(598.98,2304.90) scale(1,1.015)" font-size="61.5" fill="#262626" text-anchor="middle" stroke="#fff" stroke-width="1.1">0.1</text>
<text transform="translate(856.05,2304.90) scale(1,1.015)" font-size="61.5" fill="#262626" text-anchor="middle" stroke="#fff" stroke-width="1.1">0.2</text>
<text transform="translate(1113.12,2304.90) scale(1,1.015)" font-size="61.5" fill="#262626" text-anchor="middle" stroke="#fff" stroke-width="1.1">0.3</text>
<text transform="translate(1370.20,2304.90) scale(1,1.015)" font-size="61.5" fill="#262626" text-anchor="middle" stroke="#fff" stroke-width="1.1">0.4</text>
<text transform="translate(1627.27,2304.90) scale(1,1.015)" font-size="61.5" fill="#262626" text-anchor="middle" stroke="#fff" stroke-width="1.1">0.5</text>
<text transform="translate(1884.35,2304.90) scale(1,1.015)" font-size="61.5" fill="#262626" text-anchor="middle" stroke="#fff" stroke-width="1.1">0.6</text>
<text transform="translate(2141.43,2304.90) scale(1,1.015)" font-size="61.5" fill="#262626" text-anchor="middle" stroke="#fff" stroke-width="1.1">0.7</text>
<text transform="translate(2398.50,2304.90) scale(1,1.015)" font-size="61.5" fill="#262626" text-anchor="middle" stroke="#fff" stroke-width="1.1">0.8</text>
<text transform="translate(315.30,2241.50) scale(1,1.015)" font-size="61.5" fill="#262626" text-anchor="end" stroke="#fff" stroke-width="1.1">0</text>
<text transform="translate(315.30,2068.93) scale(1,1.015)" font-size="61.5" fill="#262626" text-anchor="end" stroke="#fff" stroke-width="1.1">50</text>
<text transform="translate(315.30,1896.35) scale(1,1.015)" font-size="61.5" fill="#262626" text-anchor="end" stroke="#fff" stroke-width="1.1">100</text>
<text transform="translate(1370.60,1824.10) scale(1,1.04)" font-size="68" font-weight="bold" fill="#000" text-anchor="middle">T<tspan font-size="47.5" dy="31">p</tspan><tspan dy="-31" dx="2.5"> = 12 s, H</tspan><tspan font-size="47.5" dy="31">s</tspan><tspan dy="-31" dx="2.5"> = 5.76 m</tspan></text>
<text transform="translate(79.70,2044.42) rotate(-90) scale(1,1.03)" font-size="67.8" fill="#262626" text-anchor="middle" stroke="#fff" stroke-width="1.1">Spec Density</text>
<text transform="translate(177.70,2044.42) rotate(-90) scale(1,1.03)" font-size="67.8" fill="#262626" text-anchor="middle" stroke="#fff" stroke-width="1.1">(m<tspan font-size="47.5" dy="-31">2</tspan><tspan dy="31">/Hz)</tspan></text>
<text transform="translate(1371.60,2397.00) scale(1,1.03)" font-size="67.8" fill="#262626" text-anchor="middle" stroke="#fff" stroke-width="1.1">Freq (Hz)</text>
<rect x="1806.9" y="191" width="532.8" height="160" fill="#fff"/>
<rect x="1806.9" y="191" width="532.8" height="160" fill="none" stroke="#3a3a3a" stroke-width="3.0"/>
<path d="M1824.9,235.8H1961.7" stroke="#0072BD" stroke-width="5.3"/>
<path d="M1824.9,306.8H1961.7" stroke="#D95319" stroke-width="5.3"/>
<text transform="translate(1974.40,258.30) scale(1,1.03)" font-size="56" fill="#000" stroke="#fff" stroke-width="1.1">Bretschneider</text>
<text transform="translate(1978.10,328.60) scale(1,1.03)" font-size="56" fill="#000" stroke="#fff" stroke-width="1.1">JONSWAP</text>
<g transform="translate(598.98,560.90) scale(1,1.015)"><rect x="11.21" y="-5.79" width="12.78" height="7.79" fill="#fff"/><rect x="29.43" y="-5.79" width="12.30" height="7.79" fill="#fff"/></g>
<g transform="translate(598.98,1141.50) scale(1,1.015)"><rect x="11.21" y="-5.79" width="12.78" height="7.79" fill="#fff"/><rect x="29.43" y="-5.79" width="12.30" height="7.79" fill="#fff"/></g>
<g transform="translate(1370.60,662.75) scale(1,1.04)"><rect x="115.60" y="-8.14" width="13.59" height="10.14" fill="#fff"/><rect x="138.52" y="-8.14" width="12.72" height="10.14" fill="#fff"/></g>
<g transform="translate(598.98,1723.80) scale(1,1.015)"><rect x="11.21" y="-5.79" width="12.78" height="7.79" fill="#fff"/><rect x="29.43" y="-5.79" width="12.30" height="7.79" fill="#fff"/></g>
<g transform="translate(315.30,1316.06) scale(1,1.015)"><rect x="-65.72" y="-5.79" width="12.78" height="7.79" fill="#fff"/><rect x="-47.51" y="-5.79" width="12.30" height="7.79" fill="#fff"/></g>
<g transform="translate(598.98,2304.90) scale(1,1.015)"><rect x="11.21" y="-5.79" width="12.78" height="7.79" fill="#fff"/><rect x="29.43" y="-5.79" width="12.30" height="7.79" fill="#fff"/></g>
<g transform="translate(315.30,1896.35) scale(1,1.015)"><rect x="-99.92" y="-5.79" width="12.78" height="7.79" fill="#fff"/><rect x="-81.70" y="-5.79" width="12.30" height="7.79" fill="#fff"/></g>
<g transform="translate(1370.60,1824.10) scale(1,1.04)"><rect x="-191.10" y="-8.14" width="13.59" height="10.14" fill="#fff"/><rect x="-168.18" y="-8.14" width="12.72" height="10.14" fill="#fff"/></g>
</svg></body></html>
